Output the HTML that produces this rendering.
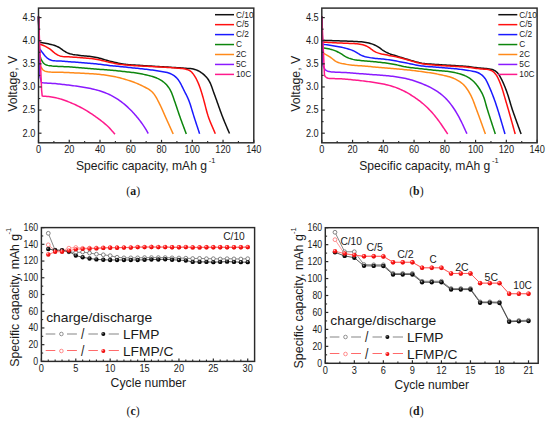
<!DOCTYPE html><html><head><meta charset="utf-8"><style>html,body{margin:0;padding:0;background:#fff;width:550px;height:422px;overflow:hidden}svg{display:block}</style></head><body>
<svg width="550" height="422" viewBox="0 0 550 422" font-family='"Liberation Sans", sans-serif'>
<rect width="550" height="422" fill="#fff"/>
<path d="M38.50,16.40 L39.30,42.30 L40.85,42.53 L42.31,42.75 L43.77,42.99 L45.24,43.25 L46.72,43.52 L48.20,43.82 L49.67,44.15 L51.13,44.51 L52.58,44.90 L54.02,45.33 L55.44,45.81 L56.84,46.35 L58.20,46.98 L59.50,47.72 L60.74,48.55 L61.95,49.44 L63.16,50.34 L64.39,51.20 L65.67,51.98 L66.99,52.67 L68.37,53.25 L69.79,53.72 L71.25,54.09 L72.72,54.39 L74.20,54.64 L75.69,54.87 L77.18,55.08 L78.67,55.28 L80.16,55.47 L81.66,55.64 L83.15,55.80 L84.65,55.94 L86.15,56.08 L87.65,56.22 L89.15,56.37 L90.64,56.53 L92.13,56.72 L93.62,56.93 L95.11,57.18 L96.58,57.47 L98.05,57.80 L99.51,58.17 L100.96,58.57 L102.40,59.00 L103.84,59.44 L105.28,59.88 L106.72,60.32 L108.16,60.73 L109.61,61.13 L111.07,61.50 L112.54,61.85 L114.00,62.19 L115.47,62.52 L116.94,62.84 L118.41,63.15 L119.89,63.43 L121.37,63.70 L122.86,63.94 L124.34,64.16 L125.84,64.36 L127.33,64.52 L128.83,64.66 L130.33,64.78 L131.83,64.88 L133.33,64.97 L134.83,65.06 L136.34,65.15 L137.84,65.25 L139.34,65.35 L140.84,65.45 L142.34,65.54 L143.85,65.64 L145.35,65.74 L146.85,65.83 L148.35,65.92 L149.85,66.02 L151.36,66.11 L152.86,66.20 L154.36,66.30 L155.86,66.39 L157.36,66.48 L158.87,66.58 L160.37,66.67 L161.87,66.76 L163.37,66.85 L164.87,66.94 L166.38,67.03 L167.88,67.12 L169.38,67.21 L170.88,67.30 L172.39,67.39 L173.89,67.48 L175.39,67.57 L176.89,67.67 L178.39,67.77 L179.89,67.87 L181.40,67.98 L182.90,68.08 L184.40,68.19 L185.90,68.29 L187.40,68.38 L188.90,68.48 L190.40,68.60 L191.89,68.78 L193.36,69.05 L194.81,69.43 L196.23,69.91 L197.61,70.50 L198.95,71.17 L200.24,71.94 L201.48,72.77 L202.68,73.67 L203.84,74.63 L204.95,75.65 L205.99,76.72 L206.98,77.85 L207.89,79.04 L208.73,80.28 L209.48,81.58 L210.15,82.92 L210.76,84.30 L211.31,85.69 L211.83,87.10 L212.34,88.52 L212.83,89.95 L213.32,91.37 L213.83,92.78 L214.34,94.20 L214.86,95.61 L215.38,97.02 L215.90,98.44 L216.41,99.85 L216.91,101.27 L217.42,102.69 L217.92,104.11 L218.42,105.53 L218.92,106.95 L219.42,108.36 L219.93,109.78 L220.44,111.20 L220.96,112.61 L221.48,114.02 L222.01,115.43 L222.55,116.83 L223.10,118.24 L223.66,119.63 L224.22,121.03 L224.80,122.42 L225.38,123.81 L225.96,125.19 L226.55,126.58 L227.14,127.96 L227.73,129.34 L228.32,130.70 L228.89,132.05 L229.50,133.50" fill="none" stroke="#111111" stroke-width="1.5" stroke-linejoin="round" stroke-linecap="butt" />
<path d="M38.50,16.40 L39.30,44.00 L40.78,44.51 L42.17,45.00 L43.54,45.54 L44.90,46.17 L46.25,46.84 L47.56,47.57 L48.83,48.36 L50.07,49.21 L51.26,50.13 L52.41,51.09 L53.54,52.07 L54.70,53.03 L55.90,53.92 L57.16,54.73 L58.48,55.41 L59.87,55.92 L61.32,56.28 L62.79,56.50 L64.29,56.63 L65.79,56.71 L67.29,56.78 L68.79,56.85 L70.29,56.93 L71.80,57.03 L73.30,57.14 L74.80,57.26 L76.30,57.37 L77.80,57.47 L79.30,57.58 L80.80,57.69 L82.30,57.80 L83.80,57.91 L85.30,58.03 L86.79,58.16 L88.29,58.29 L89.79,58.44 L91.28,58.60 L92.78,58.77 L94.27,58.97 L95.76,59.19 L97.24,59.45 L98.71,59.74 L100.18,60.06 L101.65,60.40 L103.11,60.76 L104.56,61.14 L106.02,61.51 L107.48,61.87 L108.95,62.21 L110.42,62.53 L111.89,62.83 L113.36,63.13 L114.84,63.41 L116.32,63.69 L117.80,63.95 L119.28,64.19 L120.77,64.41 L122.26,64.62 L123.75,64.81 L125.25,64.97 L126.74,65.12 L128.24,65.26 L129.74,65.37 L131.24,65.48 L132.74,65.58 L134.24,65.67 L135.75,65.76 L137.25,65.84 L138.75,65.91 L140.25,65.99 L141.76,66.06 L143.26,66.13 L144.76,66.20 L146.26,66.27 L147.77,66.34 L149.27,66.42 L150.77,66.50 L152.27,66.58 L153.77,66.67 L155.27,66.76 L156.78,66.85 L158.28,66.94 L159.78,67.03 L161.28,67.12 L162.78,67.20 L164.28,67.28 L165.79,67.36 L167.29,67.45 L168.79,67.53 L170.29,67.62 L171.79,67.71 L173.29,67.80 L174.79,67.90 L176.29,68.01 L177.79,68.13 L179.29,68.27 L180.79,68.43 L182.28,68.61 L183.77,68.83 L185.24,69.09 L186.70,69.42 L188.12,69.87 L189.46,70.49 L190.68,71.30 L191.78,72.29 L192.77,73.41 L193.67,74.60 L194.50,75.85 L195.29,77.13 L196.03,78.44 L196.72,79.77 L197.37,81.13 L197.99,82.50 L198.58,83.88 L199.13,85.28 L199.66,86.68 L200.16,88.10 L200.64,89.53 L201.10,90.96 L201.54,92.40 L201.98,93.84 L202.41,95.28 L202.84,96.72 L203.25,98.17 L203.65,99.61 L204.04,101.07 L204.42,102.52 L204.80,103.98 L205.17,105.44 L205.54,106.90 L205.91,108.35 L206.29,109.81 L206.68,111.26 L207.09,112.71 L207.52,114.15 L207.96,115.59 L208.43,117.01 L208.93,118.43 L209.45,119.84 L210.00,121.25 L210.56,122.64 L211.14,124.03 L211.73,125.41 L212.32,126.79 L212.92,128.17 L213.52,129.55 L214.11,130.91 L214.69,132.25 L215.30,133.70" fill="none" stroke="#ff1010" stroke-width="1.5" stroke-linejoin="round" stroke-linecap="butt" />
<path d="M38.50,16.40 L39.40,48.50 L40.33,49.77 L41.19,50.95 L42.07,52.14 L42.99,53.33 L43.92,54.51 L44.88,55.66 L45.89,56.77 L46.97,57.81 L48.13,58.73 L49.39,59.49 L50.75,60.06 L52.18,60.44 L53.65,60.68 L55.14,60.83 L56.64,60.92 L58.15,60.99 L59.65,61.05 L61.15,61.12 L62.65,61.20 L64.15,61.30 L65.65,61.41 L67.15,61.52 L68.65,61.64 L70.15,61.76 L71.65,61.88 L73.15,62.00 L74.65,62.11 L76.15,62.23 L77.65,62.35 L79.15,62.46 L80.65,62.58 L82.15,62.70 L83.65,62.82 L85.15,62.94 L86.64,63.06 L88.14,63.19 L89.64,63.32 L91.14,63.45 L92.64,63.58 L94.14,63.72 L95.63,63.87 L97.13,64.03 L98.62,64.19 L100.12,64.36 L101.61,64.54 L103.10,64.73 L104.60,64.92 L106.09,65.10 L107.58,65.29 L109.07,65.46 L110.57,65.63 L112.06,65.79 L113.56,65.94 L115.06,66.09 L116.55,66.23 L118.05,66.37 L119.55,66.52 L121.05,66.66 L122.54,66.81 L124.04,66.96 L125.53,67.12 L127.03,67.27 L128.53,67.43 L130.02,67.58 L131.52,67.73 L133.02,67.89 L134.51,68.04 L136.01,68.19 L137.50,68.35 L139.00,68.51 L140.49,68.67 L141.99,68.83 L143.48,69.00 L144.98,69.17 L146.47,69.34 L147.97,69.52 L149.46,69.70 L150.95,69.89 L152.44,70.09 L153.93,70.30 L155.42,70.52 L156.91,70.74 L158.39,70.96 L159.88,71.18 L161.37,71.41 L162.85,71.65 L164.33,71.91 L165.80,72.22 L167.26,72.59 L168.69,73.03 L170.10,73.55 L171.46,74.17 L172.78,74.87 L174.04,75.67 L175.24,76.57 L176.35,77.57 L177.37,78.66 L178.30,79.83 L179.15,81.06 L179.93,82.34 L180.66,83.66 L181.35,84.99 L182.02,86.34 L182.68,87.69 L183.34,89.04 L184.01,90.39 L184.69,91.73 L185.38,93.07 L186.07,94.40 L186.75,95.75 L187.40,97.10 L188.02,98.47 L188.60,99.86 L189.14,101.26 L189.66,102.67 L190.14,104.09 L190.60,105.52 L191.05,106.96 L191.49,108.40 L191.92,109.84 L192.35,111.28 L192.79,112.72 L193.22,114.16 L193.67,115.60 L194.12,117.03 L194.58,118.46 L195.04,119.89 L195.51,121.32 L195.98,122.75 L196.45,124.18 L196.92,125.61 L197.40,127.04 L197.87,128.46 L198.34,129.88 L198.80,131.28 L199.27,132.69 L199.60,133.70" fill="none" stroke="#1a1aff" stroke-width="1.5" stroke-linejoin="round" stroke-linecap="butt" />
<path d="M38.50,16.40 L39.40,54.20 L39.90,55.69 L40.35,57.09 L40.86,58.48 L41.45,59.85 L42.13,61.18 L42.94,62.42 L43.91,63.51 L45.07,64.36 L46.39,64.97 L47.82,65.37 L49.29,65.64 L50.78,65.84 L52.27,66.01 L53.77,66.14 L55.28,66.25 L56.78,66.33 L58.29,66.40 L59.79,66.47 L61.30,66.53 L62.80,66.58 L64.31,66.64 L65.81,66.70 L67.32,66.77 L68.82,66.85 L70.33,66.94 L71.83,67.03 L73.33,67.14 L74.83,67.26 L76.34,67.38 L77.84,67.51 L79.34,67.63 L80.84,67.77 L82.34,67.90 L83.84,68.03 L85.34,68.17 L86.84,68.31 L88.34,68.44 L89.84,68.58 L91.34,68.71 L92.84,68.84 L94.35,68.96 L95.85,69.08 L97.35,69.20 L98.85,69.30 L100.36,69.41 L101.86,69.51 L103.36,69.60 L104.87,69.70 L106.37,69.81 L107.87,69.92 L109.37,70.04 L110.87,70.17 L112.37,70.31 L113.87,70.45 L115.37,70.60 L116.87,70.76 L118.37,70.92 L119.87,71.09 L121.36,71.25 L122.86,71.42 L124.36,71.59 L125.86,71.76 L127.35,71.92 L128.85,72.08 L130.35,72.24 L131.85,72.41 L133.34,72.60 L134.83,72.80 L136.32,73.02 L137.81,73.26 L139.29,73.52 L140.78,73.80 L142.25,74.09 L143.73,74.38 L145.21,74.69 L146.68,75.02 L148.14,75.36 L149.61,75.72 L151.06,76.11 L152.51,76.53 L153.94,77.00 L155.35,77.51 L156.75,78.07 L158.12,78.69 L159.46,79.37 L160.77,80.11 L162.04,80.92 L163.25,81.79 L164.42,82.74 L165.52,83.76 L166.56,84.84 L167.53,85.99 L168.44,87.19 L169.29,88.43 L170.06,89.71 L170.77,91.04 L171.41,92.40 L171.98,93.79 L172.51,95.20 L173.02,96.62 L173.52,98.04 L174.01,99.46 L174.51,100.88 L175.01,102.31 L175.51,103.73 L175.99,105.16 L176.47,106.58 L176.95,108.01 L177.43,109.44 L177.90,110.87 L178.38,112.30 L178.87,113.72 L179.36,115.15 L179.86,116.57 L180.36,117.99 L180.87,119.41 L181.39,120.82 L181.91,122.24 L182.43,123.65 L182.96,125.06 L183.48,126.47 L184.01,127.88 L184.54,129.29 L185.06,130.69 L185.58,132.07 L186.11,133.48 L186.30,134.00" fill="none" stroke="#0d860d" stroke-width="1.5" stroke-linejoin="round" stroke-linecap="butt" />
<path d="M38.50,16.40 L39.60,62.70 L40.12,64.18 L40.58,65.58 L41.09,66.97 L41.75,68.28 L42.57,69.47 L43.62,70.44 L44.88,71.13 L46.27,71.59 L47.74,71.86 L49.23,72.02 L50.73,72.12 L52.24,72.17 L53.74,72.20 L55.25,72.23 L56.76,72.24 L58.26,72.26 L59.77,72.28 L61.28,72.31 L62.78,72.35 L64.29,72.41 L65.80,72.47 L67.30,72.54 L68.81,72.61 L70.31,72.68 L71.82,72.75 L73.33,72.82 L74.83,72.89 L76.34,72.96 L77.84,73.03 L79.35,73.10 L80.85,73.17 L82.36,73.24 L83.87,73.32 L85.37,73.40 L86.88,73.48 L88.38,73.57 L89.88,73.66 L91.39,73.76 L92.89,73.87 L94.40,73.98 L95.90,74.10 L97.40,74.23 L98.90,74.37 L100.40,74.51 L101.90,74.66 L103.40,74.83 L104.89,75.02 L106.39,75.22 L107.88,75.44 L109.37,75.68 L110.85,75.93 L112.33,76.21 L113.81,76.50 L115.29,76.81 L116.76,77.14 L118.23,77.48 L119.69,77.84 L121.15,78.22 L122.61,78.61 L124.06,79.02 L125.50,79.45 L126.94,79.89 L128.38,80.35 L129.81,80.83 L131.23,81.31 L132.66,81.81 L134.07,82.32 L135.49,82.85 L136.89,83.40 L138.28,83.97 L139.66,84.59 L141.01,85.24 L142.36,85.92 L143.70,86.60 L145.05,87.28 L146.39,87.97 L147.71,88.70 L148.99,89.47 L150.23,90.32 L151.40,91.25 L152.49,92.28 L153.49,93.40 L154.40,94.59 L155.24,95.84 L156.02,97.13 L156.76,98.44 L157.47,99.77 L158.16,101.10 L158.85,102.44 L159.54,103.79 L160.21,105.14 L160.86,106.49 L161.50,107.86 L162.11,109.24 L162.72,110.62 L163.32,112.00 L163.92,113.38 L164.52,114.77 L165.13,116.14 L165.74,117.52 L166.36,118.90 L166.98,120.27 L167.60,121.64 L168.22,123.02 L168.85,124.39 L169.47,125.76 L170.09,127.13 L170.71,128.51 L171.33,129.88 L171.94,131.23 L172.55,132.57 L173.20,134.00" fill="none" stroke="#ff8a1a" stroke-width="1.5" stroke-linejoin="round" stroke-linecap="butt" />
<path d="M38.50,16.40 L39.60,75.50 L41.50,82.60 L43.16,82.83 L44.76,83.01 L46.32,83.11 L47.84,83.18 L49.34,83.25 L50.81,83.32 L52.28,83.40 L53.75,83.50 L55.21,83.62 L56.67,83.75 L58.14,83.90 L59.61,84.05 L61.09,84.21 L62.57,84.38 L64.05,84.55 L65.54,84.73 L67.03,84.91 L68.52,85.09 L70.01,85.28 L71.50,85.48 L73.00,85.67 L74.49,85.87 L75.98,86.08 L77.47,86.29 L78.96,86.51 L80.45,86.74 L81.94,86.97 L83.43,87.21 L84.91,87.47 L86.39,87.73 L87.87,88.01 L89.35,88.29 L90.82,88.60 L92.29,88.92 L93.75,89.26 L95.21,89.61 L96.66,89.99 L98.11,90.39 L99.54,90.82 L100.97,91.26 L102.39,91.74 L103.79,92.24 L105.19,92.77 L106.57,93.33 L107.95,93.92 L109.30,94.53 L110.64,95.18 L111.97,95.86 L113.28,96.57 L114.58,97.30 L115.86,98.07 L117.12,98.86 L118.37,99.69 L119.59,100.54 L120.81,101.41 L122.00,102.31 L123.17,103.23 L124.33,104.18 L125.47,105.15 L126.59,106.14 L127.70,107.15 L128.78,108.18 L129.85,109.23 L130.91,110.28 L131.96,111.34 L133.00,112.43 L134.01,113.53 L135.00,114.65 L135.97,115.78 L136.92,116.92 L137.86,118.07 L138.78,119.22 L139.68,120.39 L140.57,121.56 L141.44,122.74 L142.29,123.93 L143.14,125.13 L143.97,126.35 L144.79,127.60 L145.59,128.88 L146.38,130.21 L147.18,131.59 L148.01,133.01 L148.30,133.50" fill="none" stroke="#8a1aff" stroke-width="1.5" stroke-linejoin="round" stroke-linecap="butt" />
<path d="M38.50,16.40 L41.60,90.00 L42.20,96.00 L43.87,96.15 L45.48,96.28 L47.03,96.43 L48.55,96.59 L50.04,96.78 L51.50,97.01 L52.95,97.26 L54.39,97.53 L55.83,97.82 L57.26,98.14 L58.69,98.49 L60.12,98.88 L61.54,99.30 L62.95,99.76 L64.36,100.25 L65.76,100.76 L67.16,101.29 L68.56,101.84 L69.95,102.40 L71.33,102.99 L72.71,103.57 L74.09,104.18 L75.45,104.80 L76.81,105.45 L78.17,106.11 L79.51,106.79 L80.84,107.48 L82.17,108.20 L83.49,108.93 L84.79,109.67 L86.09,110.43 L87.38,111.21 L88.66,112.00 L89.93,112.81 L91.19,113.64 L92.44,114.47 L93.69,115.31 L94.93,116.16 L96.16,117.02 L97.38,117.90 L98.58,118.79 L99.77,119.69 L100.95,120.60 L102.12,121.52 L103.27,122.44 L104.41,123.38 L105.54,124.33 L106.64,125.30 L107.72,126.29 L108.78,127.32 L109.80,128.38 L110.82,129.49 L111.83,130.63 L112.85,131.81 L113.90,133.04 L115.00,134.30" fill="none" stroke="#ff1a8c" stroke-width="1.5" stroke-linejoin="round" stroke-linecap="butt" />
<rect x="38.5" y="8.1" width="215.3" height="134.70000000000002" fill="none" stroke="#2a2a2a" stroke-width="1.45"/>
<line x1="38.50" y1="142.8" x2="38.50" y2="139.8" stroke="#2a2a2a" stroke-width="1.2"/>
<line x1="69.26" y1="142.8" x2="69.26" y2="139.8" stroke="#2a2a2a" stroke-width="1.2"/>
<line x1="100.01" y1="142.8" x2="100.01" y2="139.8" stroke="#2a2a2a" stroke-width="1.2"/>
<line x1="130.77" y1="142.8" x2="130.77" y2="139.8" stroke="#2a2a2a" stroke-width="1.2"/>
<line x1="161.53" y1="142.8" x2="161.53" y2="139.8" stroke="#2a2a2a" stroke-width="1.2"/>
<line x1="192.29" y1="142.8" x2="192.29" y2="139.8" stroke="#2a2a2a" stroke-width="1.2"/>
<line x1="223.04" y1="142.8" x2="223.04" y2="139.8" stroke="#2a2a2a" stroke-width="1.2"/>
<line x1="253.80" y1="142.8" x2="253.80" y2="139.8" stroke="#2a2a2a" stroke-width="1.2"/>
<line x1="53.88" y1="142.8" x2="53.88" y2="141.0" stroke="#2a2a2a" stroke-width="1.1"/>
<line x1="84.64" y1="142.8" x2="84.64" y2="141.0" stroke="#2a2a2a" stroke-width="1.1"/>
<line x1="115.39" y1="142.8" x2="115.39" y2="141.0" stroke="#2a2a2a" stroke-width="1.1"/>
<line x1="146.15" y1="142.8" x2="146.15" y2="141.0" stroke="#2a2a2a" stroke-width="1.1"/>
<line x1="176.91" y1="142.8" x2="176.91" y2="141.0" stroke="#2a2a2a" stroke-width="1.1"/>
<line x1="207.66" y1="142.8" x2="207.66" y2="141.0" stroke="#2a2a2a" stroke-width="1.1"/>
<line x1="238.42" y1="142.8" x2="238.42" y2="141.0" stroke="#2a2a2a" stroke-width="1.1"/>
<line x1="38.5" y1="133.20" x2="41.5" y2="133.20" stroke="#2a2a2a" stroke-width="1.2"/>
<line x1="38.5" y1="110.08" x2="41.5" y2="110.08" stroke="#2a2a2a" stroke-width="1.2"/>
<line x1="38.5" y1="86.96" x2="41.5" y2="86.96" stroke="#2a2a2a" stroke-width="1.2"/>
<line x1="38.5" y1="63.84" x2="41.5" y2="63.84" stroke="#2a2a2a" stroke-width="1.2"/>
<line x1="38.5" y1="40.72" x2="41.5" y2="40.72" stroke="#2a2a2a" stroke-width="1.2"/>
<line x1="38.5" y1="17.60" x2="41.5" y2="17.60" stroke="#2a2a2a" stroke-width="1.2"/>
<line x1="38.5" y1="121.64" x2="40.3" y2="121.64" stroke="#2a2a2a" stroke-width="1.1"/>
<line x1="38.5" y1="98.52" x2="40.3" y2="98.52" stroke="#2a2a2a" stroke-width="1.1"/>
<line x1="38.5" y1="75.40" x2="40.3" y2="75.40" stroke="#2a2a2a" stroke-width="1.1"/>
<line x1="38.5" y1="52.28" x2="40.3" y2="52.28" stroke="#2a2a2a" stroke-width="1.1"/>
<line x1="38.5" y1="29.16" x2="40.3" y2="29.16" stroke="#2a2a2a" stroke-width="1.1"/>
<text x="38.50" y="153.3" font-size="10.0" text-anchor="middle" fill="#1a1a1a" textLength="5.12" lengthAdjust="spacingAndGlyphs" >0</text>
<text x="69.26" y="153.3" font-size="10.0" text-anchor="middle" fill="#1a1a1a" textLength="10.23" lengthAdjust="spacingAndGlyphs" >20</text>
<text x="100.01" y="153.3" font-size="10.0" text-anchor="middle" fill="#1a1a1a" textLength="10.23" lengthAdjust="spacingAndGlyphs" >40</text>
<text x="130.77" y="153.3" font-size="10.0" text-anchor="middle" fill="#1a1a1a" textLength="10.23" lengthAdjust="spacingAndGlyphs" >60</text>
<text x="161.53" y="153.3" font-size="10.0" text-anchor="middle" fill="#1a1a1a" textLength="10.23" lengthAdjust="spacingAndGlyphs" >80</text>
<text x="192.29" y="153.3" font-size="10.0" text-anchor="middle" fill="#1a1a1a" textLength="15.35" lengthAdjust="spacingAndGlyphs" >100</text>
<text x="223.04" y="153.3" font-size="10.0" text-anchor="middle" fill="#1a1a1a" textLength="15.35" lengthAdjust="spacingAndGlyphs" >120</text>
<text x="253.80" y="153.3" font-size="10.0" text-anchor="middle" fill="#1a1a1a" textLength="15.35" lengthAdjust="spacingAndGlyphs" >140</text>
<text x="35.4" y="136.50" font-size="10.0" text-anchor="end" fill="#1a1a1a" textLength="12.79" lengthAdjust="spacingAndGlyphs" >2.0</text>
<text x="35.4" y="113.38" font-size="10.0" text-anchor="end" fill="#1a1a1a" textLength="12.79" lengthAdjust="spacingAndGlyphs" >2.5</text>
<text x="35.4" y="90.26" font-size="10.0" text-anchor="end" fill="#1a1a1a" textLength="12.79" lengthAdjust="spacingAndGlyphs" >3.0</text>
<text x="35.4" y="67.14" font-size="10.0" text-anchor="end" fill="#1a1a1a" textLength="12.79" lengthAdjust="spacingAndGlyphs" >3.5</text>
<text x="35.4" y="44.02" font-size="10.0" text-anchor="end" fill="#1a1a1a" textLength="12.79" lengthAdjust="spacingAndGlyphs" >4.0</text>
<text x="35.4" y="20.90" font-size="10.0" text-anchor="end" fill="#1a1a1a" textLength="12.79" lengthAdjust="spacingAndGlyphs" >4.5</text>
<line x1="215" y1="14.70" x2="234" y2="14.70" stroke="#111111" stroke-width="1.5"/>
<text x="236" y="17.50" font-size="8.8" text-anchor="start" fill="#1a1a1a" textLength="17.5" lengthAdjust="spacingAndGlyphs" >C/10</text>
<line x1="215" y1="24.65" x2="234" y2="24.65" stroke="#ff1010" stroke-width="1.5"/>
<text x="236" y="27.45" font-size="8.8" text-anchor="start" fill="#1a1a1a" textLength="12.9" lengthAdjust="spacingAndGlyphs" >C/5</text>
<line x1="215" y1="34.60" x2="234" y2="34.60" stroke="#1a1aff" stroke-width="1.5"/>
<text x="236" y="37.40" font-size="8.8" text-anchor="start" fill="#1a1a1a" textLength="12.9" lengthAdjust="spacingAndGlyphs" >C/2</text>
<line x1="215" y1="44.55" x2="234" y2="44.55" stroke="#0d860d" stroke-width="1.5"/>
<text x="236" y="47.35" font-size="8.8" text-anchor="start" fill="#1a1a1a" textLength="6.0" lengthAdjust="spacingAndGlyphs" >C</text>
<line x1="215" y1="54.50" x2="234" y2="54.50" stroke="#ff8a1a" stroke-width="1.5"/>
<text x="236" y="57.30" font-size="8.8" text-anchor="start" fill="#1a1a1a" textLength="10.6" lengthAdjust="spacingAndGlyphs" >2C</text>
<line x1="215" y1="64.45" x2="234" y2="64.45" stroke="#8a1aff" stroke-width="1.5"/>
<text x="236" y="67.25" font-size="8.8" text-anchor="start" fill="#1a1a1a" textLength="10.6" lengthAdjust="spacingAndGlyphs" >5C</text>
<line x1="215" y1="74.40" x2="234" y2="74.40" stroke="#ff1a8c" stroke-width="1.5"/>
<text x="236" y="77.20" font-size="8.8" text-anchor="start" fill="#1a1a1a" textLength="15.2" lengthAdjust="spacingAndGlyphs" >10C</text>
<text x="76" y="170.3" font-size="12.4" text-anchor="start" fill="#1a1a1a" textLength="131" lengthAdjust="spacingAndGlyphs" >Specific capacity, mAh g</text>
<text x="208.8" y="162.9" font-size="7.5" text-anchor="start" fill="#1a1a1a" >-1</text>
<text transform="translate(16.6,111.8) rotate(-90)" font-size="12.4" textLength="56" lengthAdjust="spacingAndGlyphs" fill="#1a1a1a">Voltage, V</text>
<path d="M321.80,16.40 L322.40,40.30 L323.97,40.35 L325.44,40.40 L326.92,40.45 L328.41,40.50 L329.92,40.55 L331.42,40.60 L332.92,40.65 L334.43,40.70 L335.93,40.75 L337.44,40.80 L338.94,40.85 L340.44,40.90 L341.95,40.95 L343.45,41.01 L344.95,41.06 L346.46,41.12 L347.96,41.18 L349.46,41.24 L350.96,41.31 L352.47,41.37 L353.97,41.45 L355.47,41.52 L356.97,41.60 L358.48,41.67 L359.98,41.76 L361.48,41.87 L362.98,42.01 L364.47,42.19 L365.95,42.42 L367.43,42.71 L368.89,43.05 L370.34,43.45 L371.77,43.90 L373.18,44.41 L374.58,44.97 L375.94,45.60 L377.26,46.30 L378.53,47.10 L379.75,47.97 L380.95,48.87 L382.16,49.76 L383.41,50.60 L384.69,51.38 L386.01,52.10 L387.36,52.76 L388.73,53.37 L390.13,53.92 L391.54,54.42 L392.97,54.89 L394.41,55.34 L395.84,55.79 L397.28,56.24 L398.71,56.69 L400.15,57.13 L401.59,57.57 L403.03,58.01 L404.47,58.44 L405.91,58.88 L407.35,59.32 L408.78,59.77 L410.22,60.21 L411.66,60.65 L413.10,61.08 L414.55,61.50 L416.00,61.89 L417.46,62.26 L418.92,62.60 L420.39,62.90 L421.87,63.17 L423.36,63.39 L424.85,63.59 L426.35,63.75 L427.84,63.89 L429.34,64.01 L430.84,64.12 L432.34,64.22 L433.84,64.32 L435.35,64.42 L436.85,64.52 L438.35,64.62 L439.85,64.73 L441.35,64.83 L442.85,64.93 L444.35,65.02 L445.85,65.11 L447.36,65.19 L448.86,65.28 L450.36,65.36 L451.86,65.44 L453.36,65.52 L454.87,65.61 L456.37,65.69 L457.87,65.78 L459.37,65.88 L460.87,65.98 L462.37,66.08 L463.87,66.20 L465.37,66.32 L466.87,66.46 L468.36,66.62 L469.86,66.79 L471.35,66.97 L472.84,67.17 L474.33,67.37 L475.82,67.57 L477.32,67.77 L478.81,67.95 L480.31,68.10 L481.80,68.24 L483.30,68.35 L484.80,68.46 L486.30,68.58 L487.80,68.73 L489.29,68.92 L490.76,69.18 L492.21,69.54 L493.61,70.05 L494.92,70.72 L496.13,71.57 L497.22,72.58 L498.19,73.70 L499.07,74.92 L499.85,76.19 L500.59,77.51 L501.28,78.84 L501.95,80.19 L502.60,81.54 L503.23,82.91 L503.83,84.29 L504.42,85.67 L504.99,87.06 L505.54,88.46 L506.08,89.87 L506.60,91.28 L507.10,92.70 L507.59,94.12 L508.07,95.55 L508.52,96.98 L508.96,98.42 L509.39,99.86 L509.82,101.30 L510.24,102.75 L510.66,104.19 L511.09,105.63 L511.53,107.07 L511.99,108.50 L512.46,109.93 L512.94,111.36 L513.44,112.78 L513.94,114.19 L514.45,115.61 L514.95,117.03 L515.46,118.44 L515.97,119.86 L516.48,121.27 L516.99,122.69 L517.51,124.10 L518.02,125.52 L518.53,126.93 L519.05,128.34 L519.56,129.75 L520.06,131.14 L520.57,132.52 L521.10,134.00" fill="none" stroke="#111111" stroke-width="1.5" stroke-linejoin="round" stroke-linecap="butt" />
<path d="M321.80,16.40 L322.40,42.10 L323.97,42.18 L325.43,42.26 L326.91,42.33 L328.41,42.41 L329.91,42.49 L331.41,42.57 L332.91,42.65 L334.41,42.73 L335.92,42.81 L337.42,42.89 L338.92,42.96 L340.42,43.04 L341.92,43.11 L343.43,43.18 L344.93,43.25 L346.43,43.30 L347.93,43.35 L349.44,43.38 L350.94,43.42 L352.44,43.47 L353.95,43.55 L355.44,43.66 L356.94,43.80 L358.44,43.97 L359.92,44.17 L361.40,44.43 L362.86,44.76 L364.30,45.18 L365.70,45.71 L367.05,46.35 L368.36,47.08 L369.61,47.90 L370.82,48.79 L372.00,49.72 L373.19,50.61 L374.45,51.42 L375.77,52.10 L377.16,52.66 L378.58,53.13 L380.03,53.54 L381.49,53.90 L382.95,54.22 L384.43,54.52 L385.90,54.82 L387.38,55.11 L388.85,55.40 L390.33,55.69 L391.81,55.97 L393.28,56.26 L394.75,56.57 L396.22,56.89 L397.69,57.23 L399.15,57.59 L400.61,57.95 L402.06,58.33 L403.52,58.71 L404.97,59.10 L406.42,59.51 L407.86,59.92 L409.31,60.34 L410.75,60.77 L412.19,61.20 L413.63,61.62 L415.08,62.02 L416.53,62.41 L417.99,62.77 L419.46,63.11 L420.93,63.41 L422.41,63.68 L423.89,63.92 L425.38,64.14 L426.87,64.33 L428.37,64.51 L429.86,64.67 L431.36,64.81 L432.86,64.95 L434.35,65.08 L435.85,65.21 L437.35,65.34 L438.85,65.46 L440.35,65.57 L441.85,65.68 L443.35,65.77 L444.85,65.86 L446.35,65.94 L447.86,66.02 L449.36,66.10 L450.86,66.17 L452.36,66.24 L453.86,66.31 L455.37,66.39 L456.87,66.47 L458.37,66.55 L459.87,66.63 L461.37,66.72 L462.87,66.83 L464.37,66.94 L465.87,67.07 L467.37,67.22 L468.86,67.38 L470.35,67.57 L471.84,67.77 L473.33,67.98 L474.82,68.20 L476.31,68.41 L477.80,68.61 L479.29,68.79 L480.79,68.94 L482.29,69.05 L483.79,69.15 L485.29,69.24 L486.78,69.37 L488.26,69.58 L489.71,69.92 L491.10,70.43 L492.40,71.13 L493.59,72.00 L494.66,73.03 L495.62,74.17 L496.48,75.39 L497.25,76.67 L497.95,78.00 L498.59,79.36 L499.20,80.74 L499.77,82.13 L500.32,83.53 L500.85,84.93 L501.37,86.34 L501.86,87.76 L502.33,89.19 L502.78,90.63 L503.21,92.07 L503.63,93.51 L504.05,94.96 L504.47,96.40 L504.89,97.84 L505.32,99.29 L505.74,100.73 L506.17,102.17 L506.60,103.61 L507.02,105.06 L507.44,106.50 L507.86,107.94 L508.28,109.39 L508.69,110.83 L509.11,112.28 L509.52,113.73 L509.93,115.17 L510.33,116.62 L510.74,118.07 L511.15,119.52 L511.55,120.97 L511.96,122.41 L512.36,123.86 L512.77,125.31 L513.17,126.76 L513.58,128.21 L513.98,129.65 L514.38,131.08 L514.78,132.49 L515.20,134.00" fill="none" stroke="#ff1010" stroke-width="1.5" stroke-linejoin="round" stroke-linecap="butt" />
<path d="M321.80,16.40 L322.40,44.20 L323.95,44.42 L325.41,44.63 L326.88,44.83 L328.36,45.04 L329.85,45.25 L331.34,45.46 L332.83,45.68 L334.31,45.91 L335.80,46.15 L337.28,46.41 L338.76,46.68 L340.24,46.97 L341.71,47.28 L343.18,47.61 L344.64,47.96 L346.09,48.35 L347.54,48.76 L348.98,49.19 L350.41,49.64 L351.83,50.14 L353.23,50.69 L354.58,51.33 L355.89,52.06 L357.15,52.86 L358.40,53.69 L359.68,54.46 L361.01,55.15 L362.39,55.74 L363.81,56.24 L365.25,56.66 L366.70,57.02 L368.18,57.34 L369.65,57.62 L371.14,57.87 L372.62,58.09 L374.11,58.29 L375.61,58.46 L377.11,58.61 L378.60,58.74 L380.10,58.86 L381.60,58.98 L383.10,59.11 L384.60,59.26 L386.09,59.43 L387.58,59.63 L389.07,59.84 L390.56,60.08 L392.04,60.32 L393.53,60.57 L395.01,60.84 L396.49,61.10 L397.97,61.38 L399.45,61.65 L400.93,61.93 L402.41,62.21 L403.88,62.49 L405.36,62.78 L406.84,63.07 L408.31,63.37 L409.78,63.68 L411.25,63.99 L412.73,64.31 L414.20,64.62 L415.67,64.91 L417.15,65.19 L418.63,65.45 L420.12,65.69 L421.61,65.90 L423.10,66.08 L424.60,66.24 L426.09,66.39 L427.59,66.52 L429.09,66.63 L430.59,66.75 L432.09,66.85 L433.60,66.96 L435.10,67.07 L436.60,67.19 L438.10,67.31 L439.60,67.43 L441.09,67.56 L442.59,67.68 L444.09,67.79 L445.59,67.91 L447.09,68.03 L448.59,68.15 L450.09,68.28 L451.59,68.41 L453.09,68.54 L454.59,68.69 L456.09,68.84 L457.58,69.01 L459.07,69.18 L460.57,69.37 L462.06,69.56 L463.55,69.75 L465.04,69.96 L466.53,70.17 L468.02,70.39 L469.51,70.62 L470.99,70.87 L472.47,71.14 L473.94,71.44 L475.40,71.80 L476.83,72.24 L478.22,72.79 L479.55,73.47 L480.81,74.27 L481.99,75.18 L483.10,76.18 L484.11,77.28 L485.03,78.46 L485.85,79.71 L486.59,81.02 L487.26,82.36 L487.90,83.72 L488.52,85.09 L489.13,86.47 L489.73,87.85 L490.33,89.23 L490.91,90.62 L491.48,92.01 L492.04,93.41 L492.58,94.81 L493.12,96.21 L493.65,97.62 L494.17,99.03 L494.68,100.45 L495.18,101.87 L495.67,103.29 L496.15,104.72 L496.62,106.14 L497.09,107.58 L497.54,109.01 L498.00,110.44 L498.44,111.88 L498.89,113.32 L499.32,114.76 L499.76,116.20 L500.19,117.64 L500.61,119.08 L501.04,120.53 L501.46,121.97 L501.89,123.41 L502.31,124.86 L502.73,126.30 L503.16,127.75 L503.58,129.19 L504.00,130.62 L504.41,132.02 L504.84,133.47 L505.00,134.00" fill="none" stroke="#1a1aff" stroke-width="1.5" stroke-linejoin="round" stroke-linecap="butt" />
<path d="M321.80,16.40 L322.40,47.80 L323.95,48.08 L325.40,48.32 L326.86,48.56 L328.34,48.82 L329.82,49.11 L331.28,49.46 L332.73,49.87 L334.15,50.35 L335.54,50.91 L336.91,51.53 L338.26,52.21 L339.58,52.92 L340.89,53.67 L342.17,54.47 L343.43,55.29 L344.69,56.10 L345.99,56.86 L347.33,57.53 L348.71,58.11 L350.13,58.59 L351.58,59.01 L353.04,59.36 L354.51,59.67 L356.00,59.93 L357.49,60.16 L358.98,60.35 L360.48,60.51 L361.98,60.65 L363.48,60.78 L364.98,60.90 L366.48,61.01 L367.98,61.13 L369.49,61.26 L370.99,61.39 L372.49,61.54 L373.98,61.69 L375.48,61.85 L376.98,62.00 L378.48,62.16 L379.98,62.33 L381.47,62.49 L382.97,62.66 L384.47,62.84 L385.96,63.02 L387.46,63.22 L388.95,63.43 L390.44,63.66 L391.92,63.92 L393.40,64.19 L394.88,64.49 L396.35,64.81 L397.82,65.14 L399.29,65.48 L400.76,65.82 L402.23,66.15 L403.70,66.47 L405.18,66.75 L406.66,67.02 L408.15,67.25 L409.64,67.46 L411.13,67.65 L412.63,67.83 L414.13,68.00 L415.63,68.16 L417.12,68.32 L418.62,68.48 L420.12,68.64 L421.62,68.81 L423.11,68.97 L424.61,69.14 L426.11,69.31 L427.61,69.48 L429.10,69.64 L430.60,69.81 L432.10,69.97 L433.60,70.13 L435.09,70.29 L436.59,70.45 L438.09,70.60 L439.59,70.73 L441.09,70.85 L442.60,70.97 L444.10,71.07 L445.60,71.19 L447.10,71.32 L448.60,71.49 L450.09,71.68 L451.58,71.93 L453.06,72.20 L454.53,72.52 L456.00,72.86 L457.46,73.23 L458.91,73.62 L460.35,74.05 L461.79,74.51 L463.21,75.02 L464.61,75.57 L465.98,76.18 L467.32,76.85 L468.63,77.60 L469.89,78.42 L471.10,79.31 L472.26,80.26 L473.37,81.27 L474.43,82.33 L475.44,83.45 L476.41,84.60 L477.33,85.79 L478.22,87.01 L479.07,88.25 L479.90,89.51 L480.68,90.79 L481.42,92.10 L482.11,93.44 L482.75,94.80 L483.34,96.19 L483.88,97.59 L484.37,99.01 L484.81,100.45 L485.23,101.90 L485.63,103.35 L486.02,104.81 L486.43,106.26 L486.85,107.70 L487.28,109.15 L487.73,110.59 L488.18,112.02 L488.63,113.46 L489.09,114.89 L489.55,116.33 L490.02,117.76 L490.48,119.20 L490.95,120.63 L491.41,122.06 L491.88,123.49 L492.35,124.93 L492.82,126.36 L493.28,127.79 L493.75,129.22 L494.21,130.64 L494.66,132.04 L495.13,133.48 L495.30,134.00" fill="none" stroke="#0d860d" stroke-width="1.5" stroke-linejoin="round" stroke-linecap="butt" />
<path d="M321.80,16.40 L322.40,52.70 L323.78,53.44 L325.09,54.12 L326.39,54.82 L327.70,55.55 L328.99,56.32 L330.25,57.14 L331.46,58.03 L332.63,58.97 L333.80,59.91 L335.00,60.80 L336.27,61.58 L337.61,62.23 L339.01,62.74 L340.46,63.15 L341.92,63.50 L343.39,63.81 L344.87,64.11 L346.34,64.38 L347.83,64.63 L349.32,64.86 L350.81,65.05 L352.30,65.21 L353.80,65.34 L355.30,65.45 L356.81,65.54 L358.31,65.64 L359.81,65.74 L361.31,65.86 L362.81,65.98 L364.31,66.10 L365.81,66.23 L367.31,66.36 L368.81,66.49 L370.31,66.62 L371.81,66.75 L373.31,66.89 L374.81,67.02 L376.31,67.15 L377.81,67.28 L379.31,67.41 L380.80,67.54 L382.30,67.67 L383.80,67.80 L385.30,67.92 L386.80,68.05 L388.30,68.17 L389.80,68.30 L391.30,68.43 L392.80,68.56 L394.30,68.68 L395.80,68.81 L397.30,68.95 L398.80,69.08 L400.30,69.22 L401.80,69.35 L403.30,69.50 L404.79,69.64 L406.29,69.79 L407.79,69.95 L409.29,70.11 L410.78,70.27 L412.28,70.44 L413.77,70.62 L415.27,70.80 L416.76,70.98 L418.25,71.18 L419.74,71.37 L421.24,71.58 L422.73,71.78 L424.22,71.99 L425.71,72.20 L427.20,72.41 L428.69,72.63 L430.18,72.85 L431.66,73.09 L433.15,73.33 L434.63,73.58 L436.11,73.85 L437.59,74.13 L439.07,74.43 L440.54,74.73 L442.01,75.04 L443.48,75.37 L444.95,75.71 L446.41,76.06 L447.87,76.43 L449.32,76.83 L450.76,77.27 L452.18,77.76 L453.57,78.32 L454.94,78.94 L456.28,79.63 L457.59,80.36 L458.88,81.13 L460.14,81.94 L461.37,82.81 L462.53,83.75 L463.63,84.77 L464.65,85.87 L465.62,87.02 L466.52,88.22 L467.38,89.45 L468.20,90.72 L468.98,92.00 L469.74,93.30 L470.46,94.62 L471.14,95.96 L471.79,97.32 L472.40,98.69 L472.97,100.08 L473.52,101.49 L474.05,102.89 L474.57,104.31 L475.08,105.72 L475.60,107.13 L476.12,108.55 L476.65,109.96 L477.18,111.37 L477.70,112.78 L478.23,114.19 L478.74,115.60 L479.26,117.01 L479.78,118.43 L480.29,119.84 L480.80,121.26 L481.31,122.67 L481.82,124.09 L482.33,125.51 L482.84,126.92 L483.35,128.34 L483.86,129.75 L484.36,131.14 L484.86,132.52 L485.40,134.00" fill="none" stroke="#ff8a1a" stroke-width="1.5" stroke-linejoin="round" stroke-linecap="butt" />
<path d="M321.80,16.40 L322.40,62.70 L322.56,63.31 L322.71,63.92 L322.86,64.53 L323.02,65.14 L323.20,65.73 L323.40,66.30 L323.61,66.82 L323.83,67.34 L324.06,67.85 L324.32,68.33 L324.59,68.78 L324.90,69.20 L325.20,69.55 L325.53,69.87 L325.88,70.17 L326.24,70.44 L326.62,70.68 L327.00,70.90 L327.38,71.08 L327.77,71.21 L328.17,71.33 L328.59,71.42 L329.03,71.51 L329.50,71.60 L330.15,71.71 L330.82,71.81 L331.53,71.89 L332.29,71.96 L333.11,72.03 L334.00,72.10 L335.67,72.21 L337.57,72.30 L339.64,72.37 L341.79,72.45 L343.93,72.52 L346.00,72.60 L347.67,72.73 L349.28,72.85 L350.84,72.96 L352.36,73.08 L353.86,73.19 L355.33,73.30 L356.80,73.41 L358.27,73.52 L359.73,73.63 L361.20,73.74 L362.67,73.85 L364.15,73.96 L365.63,74.07 L367.12,74.18 L368.61,74.29 L370.11,74.40 L371.60,74.51 L373.10,74.63 L374.61,74.74 L376.11,74.85 L377.61,74.97 L379.12,75.08 L380.62,75.20 L382.12,75.33 L383.63,75.45 L385.13,75.58 L386.63,75.72 L388.13,75.86 L389.63,76.01 L391.13,76.17 L392.63,76.34 L394.13,76.52 L395.62,76.71 L397.11,76.92 L398.60,77.15 L400.08,77.39 L401.56,77.65 L403.03,77.93 L404.50,78.23 L405.97,78.55 L407.43,78.90 L408.88,79.27 L410.33,79.66 L411.77,80.08 L413.20,80.52 L414.63,80.98 L416.05,81.45 L417.47,81.95 L418.88,82.47 L420.28,83.00 L421.68,83.55 L423.07,84.11 L424.46,84.69 L425.83,85.29 L427.20,85.91 L428.55,86.54 L429.90,87.20 L431.23,87.88 L432.55,88.58 L433.85,89.31 L435.13,90.07 L436.39,90.86 L437.63,91.68 L438.85,92.53 L440.04,93.41 L441.21,94.33 L442.35,95.27 L443.47,96.25 L444.56,97.26 L445.62,98.30 L446.65,99.36 L447.66,100.46 L448.64,101.58 L449.59,102.72 L450.52,103.89 L451.42,105.08 L452.29,106.29 L453.15,107.51 L454.00,108.74 L454.83,109.98 L455.63,111.25 L456.40,112.52 L457.15,113.81 L457.88,115.11 L458.60,116.42 L459.29,117.72 L459.98,119.03 L460.65,120.34 L461.31,121.66 L461.95,122.98 L462.58,124.30 L463.21,125.64 L463.83,126.99 L464.46,128.36 L465.10,129.76 L465.75,131.20 L466.43,132.68 L466.90,133.70" fill="none" stroke="#8a1aff" stroke-width="1.5" stroke-linejoin="round" stroke-linecap="butt" />
<path d="M321.80,16.40 L324.50,75.50 L325.51,76.77 L326.70,77.77 L328.18,78.23 L329.70,78.43 L331.20,78.52 L332.68,78.57 L334.15,78.61 L335.61,78.64 L337.07,78.67 L338.53,78.72 L339.99,78.78 L341.46,78.86 L342.94,78.95 L344.42,79.06 L345.91,79.18 L347.40,79.32 L348.89,79.46 L350.38,79.60 L351.88,79.74 L353.38,79.89 L354.88,80.04 L356.38,80.19 L357.88,80.35 L359.38,80.52 L360.88,80.69 L362.38,80.87 L363.87,81.05 L365.37,81.24 L366.87,81.43 L368.37,81.63 L369.86,81.84 L371.36,82.05 L372.85,82.26 L374.34,82.49 L375.83,82.72 L377.32,82.96 L378.81,83.21 L380.29,83.47 L381.77,83.75 L383.24,84.04 L384.72,84.34 L386.18,84.67 L387.64,85.02 L389.09,85.39 L390.54,85.79 L391.97,86.21 L393.40,86.66 L394.82,87.14 L396.22,87.64 L397.62,88.18 L399.00,88.75 L400.37,89.34 L401.73,89.96 L403.08,90.61 L404.42,91.28 L405.74,91.98 L407.06,92.71 L408.36,93.45 L409.65,94.21 L410.93,95.00 L412.20,95.80 L413.46,96.62 L414.71,97.45 L415.95,98.30 L417.18,99.17 L418.39,100.06 L419.59,100.96 L420.77,101.88 L421.94,102.82 L423.09,103.78 L424.23,104.76 L425.34,105.75 L426.44,106.77 L427.52,107.81 L428.58,108.87 L429.62,109.95 L430.66,111.02 L431.68,112.12 L432.67,113.24 L433.65,114.37 L434.60,115.52 L435.53,116.68 L436.45,117.86 L437.35,119.03 L438.24,120.22 L439.11,121.41 L439.97,122.60 L440.82,123.80 L441.65,125.01 L442.48,126.23 L443.31,127.46 L444.15,128.70 L445.00,129.97 L445.86,131.27 L446.76,132.61 L447.70,134.00" fill="none" stroke="#ff1a8c" stroke-width="1.5" stroke-linejoin="round" stroke-linecap="butt" />
<rect x="321.8" y="8.1" width="215.3" height="134.70000000000002" fill="none" stroke="#2a2a2a" stroke-width="1.45"/>
<line x1="321.80" y1="142.8" x2="321.80" y2="139.8" stroke="#2a2a2a" stroke-width="1.2"/>
<line x1="352.56" y1="142.8" x2="352.56" y2="139.8" stroke="#2a2a2a" stroke-width="1.2"/>
<line x1="383.31" y1="142.8" x2="383.31" y2="139.8" stroke="#2a2a2a" stroke-width="1.2"/>
<line x1="414.07" y1="142.8" x2="414.07" y2="139.8" stroke="#2a2a2a" stroke-width="1.2"/>
<line x1="444.83" y1="142.8" x2="444.83" y2="139.8" stroke="#2a2a2a" stroke-width="1.2"/>
<line x1="475.59" y1="142.8" x2="475.59" y2="139.8" stroke="#2a2a2a" stroke-width="1.2"/>
<line x1="506.34" y1="142.8" x2="506.34" y2="139.8" stroke="#2a2a2a" stroke-width="1.2"/>
<line x1="537.10" y1="142.8" x2="537.10" y2="139.8" stroke="#2a2a2a" stroke-width="1.2"/>
<line x1="337.18" y1="142.8" x2="337.18" y2="141.0" stroke="#2a2a2a" stroke-width="1.1"/>
<line x1="367.94" y1="142.8" x2="367.94" y2="141.0" stroke="#2a2a2a" stroke-width="1.1"/>
<line x1="398.69" y1="142.8" x2="398.69" y2="141.0" stroke="#2a2a2a" stroke-width="1.1"/>
<line x1="429.45" y1="142.8" x2="429.45" y2="141.0" stroke="#2a2a2a" stroke-width="1.1"/>
<line x1="460.21" y1="142.8" x2="460.21" y2="141.0" stroke="#2a2a2a" stroke-width="1.1"/>
<line x1="490.96" y1="142.8" x2="490.96" y2="141.0" stroke="#2a2a2a" stroke-width="1.1"/>
<line x1="521.72" y1="142.8" x2="521.72" y2="141.0" stroke="#2a2a2a" stroke-width="1.1"/>
<line x1="321.8" y1="133.20" x2="324.8" y2="133.20" stroke="#2a2a2a" stroke-width="1.2"/>
<line x1="321.8" y1="110.08" x2="324.8" y2="110.08" stroke="#2a2a2a" stroke-width="1.2"/>
<line x1="321.8" y1="86.96" x2="324.8" y2="86.96" stroke="#2a2a2a" stroke-width="1.2"/>
<line x1="321.8" y1="63.84" x2="324.8" y2="63.84" stroke="#2a2a2a" stroke-width="1.2"/>
<line x1="321.8" y1="40.72" x2="324.8" y2="40.72" stroke="#2a2a2a" stroke-width="1.2"/>
<line x1="321.8" y1="17.60" x2="324.8" y2="17.60" stroke="#2a2a2a" stroke-width="1.2"/>
<line x1="321.8" y1="121.64" x2="323.6" y2="121.64" stroke="#2a2a2a" stroke-width="1.1"/>
<line x1="321.8" y1="98.52" x2="323.6" y2="98.52" stroke="#2a2a2a" stroke-width="1.1"/>
<line x1="321.8" y1="75.40" x2="323.6" y2="75.40" stroke="#2a2a2a" stroke-width="1.1"/>
<line x1="321.8" y1="52.28" x2="323.6" y2="52.28" stroke="#2a2a2a" stroke-width="1.1"/>
<line x1="321.8" y1="29.16" x2="323.6" y2="29.16" stroke="#2a2a2a" stroke-width="1.1"/>
<text x="321.80" y="153.3" font-size="10.0" text-anchor="middle" fill="#1a1a1a" textLength="5.12" lengthAdjust="spacingAndGlyphs" >0</text>
<text x="352.56" y="153.3" font-size="10.0" text-anchor="middle" fill="#1a1a1a" textLength="10.23" lengthAdjust="spacingAndGlyphs" >20</text>
<text x="383.31" y="153.3" font-size="10.0" text-anchor="middle" fill="#1a1a1a" textLength="10.23" lengthAdjust="spacingAndGlyphs" >40</text>
<text x="414.07" y="153.3" font-size="10.0" text-anchor="middle" fill="#1a1a1a" textLength="10.23" lengthAdjust="spacingAndGlyphs" >60</text>
<text x="444.83" y="153.3" font-size="10.0" text-anchor="middle" fill="#1a1a1a" textLength="10.23" lengthAdjust="spacingAndGlyphs" >80</text>
<text x="475.59" y="153.3" font-size="10.0" text-anchor="middle" fill="#1a1a1a" textLength="15.35" lengthAdjust="spacingAndGlyphs" >100</text>
<text x="506.34" y="153.3" font-size="10.0" text-anchor="middle" fill="#1a1a1a" textLength="15.35" lengthAdjust="spacingAndGlyphs" >120</text>
<text x="537.10" y="153.3" font-size="10.0" text-anchor="middle" fill="#1a1a1a" textLength="15.35" lengthAdjust="spacingAndGlyphs" >140</text>
<text x="318.7" y="136.50" font-size="10.0" text-anchor="end" fill="#1a1a1a" textLength="12.79" lengthAdjust="spacingAndGlyphs" >2.0</text>
<text x="318.7" y="113.38" font-size="10.0" text-anchor="end" fill="#1a1a1a" textLength="12.79" lengthAdjust="spacingAndGlyphs" >2.5</text>
<text x="318.7" y="90.26" font-size="10.0" text-anchor="end" fill="#1a1a1a" textLength="12.79" lengthAdjust="spacingAndGlyphs" >3.0</text>
<text x="318.7" y="67.14" font-size="10.0" text-anchor="end" fill="#1a1a1a" textLength="12.79" lengthAdjust="spacingAndGlyphs" >3.5</text>
<text x="318.7" y="44.02" font-size="10.0" text-anchor="end" fill="#1a1a1a" textLength="12.79" lengthAdjust="spacingAndGlyphs" >4.0</text>
<text x="318.7" y="20.90" font-size="10.0" text-anchor="end" fill="#1a1a1a" textLength="12.79" lengthAdjust="spacingAndGlyphs" >4.5</text>
<line x1="498.3" y1="14.70" x2="517.3" y2="14.70" stroke="#111111" stroke-width="1.5"/>
<text x="519.3" y="17.50" font-size="8.8" text-anchor="start" fill="#1a1a1a" textLength="17.5" lengthAdjust="spacingAndGlyphs" >C/10</text>
<line x1="498.3" y1="24.65" x2="517.3" y2="24.65" stroke="#ff1010" stroke-width="1.5"/>
<text x="519.3" y="27.45" font-size="8.8" text-anchor="start" fill="#1a1a1a" textLength="12.9" lengthAdjust="spacingAndGlyphs" >C/5</text>
<line x1="498.3" y1="34.60" x2="517.3" y2="34.60" stroke="#1a1aff" stroke-width="1.5"/>
<text x="519.3" y="37.40" font-size="8.8" text-anchor="start" fill="#1a1a1a" textLength="12.9" lengthAdjust="spacingAndGlyphs" >C/2</text>
<line x1="498.3" y1="44.55" x2="517.3" y2="44.55" stroke="#0d860d" stroke-width="1.5"/>
<text x="519.3" y="47.35" font-size="8.8" text-anchor="start" fill="#1a1a1a" textLength="6.0" lengthAdjust="spacingAndGlyphs" >C</text>
<line x1="498.3" y1="54.50" x2="517.3" y2="54.50" stroke="#ff8a1a" stroke-width="1.5"/>
<text x="519.3" y="57.30" font-size="8.8" text-anchor="start" fill="#1a1a1a" textLength="10.6" lengthAdjust="spacingAndGlyphs" >2C</text>
<line x1="498.3" y1="64.45" x2="517.3" y2="64.45" stroke="#8a1aff" stroke-width="1.5"/>
<text x="519.3" y="67.25" font-size="8.8" text-anchor="start" fill="#1a1a1a" textLength="10.6" lengthAdjust="spacingAndGlyphs" >5C</text>
<line x1="498.3" y1="74.40" x2="517.3" y2="74.40" stroke="#ff1a8c" stroke-width="1.5"/>
<text x="519.3" y="77.20" font-size="8.8" text-anchor="start" fill="#1a1a1a" textLength="15.2" lengthAdjust="spacingAndGlyphs" >10C</text>
<text x="359.3" y="170.3" font-size="12.4" text-anchor="start" fill="#1a1a1a" textLength="131" lengthAdjust="spacingAndGlyphs" >Specific capacity, mAh g</text>
<text x="492.1" y="162.9" font-size="7.5" text-anchor="start" fill="#1a1a1a" >-1</text>
<text transform="translate(299.90000000000003,111.8) rotate(-90)" font-size="12.4" textLength="56" lengthAdjust="spacingAndGlyphs" fill="#1a1a1a">Voltage, V</text>
<text x="133.2" y="194.8" font-family='"Liberation Serif", serif' font-size="11.8" text-anchor="middle" fill="#1a1a1a">(<tspan font-weight="bold">a</tspan>)</text>
<text x="416.4" y="195.0" font-family='"Liberation Serif", serif' font-size="11.8" text-anchor="middle" fill="#1a1a1a">(<tspan font-weight="bold">b</tspan>)</text>
<text x="133" y="415.4" font-family='"Liberation Serif", serif' font-size="11.8" text-anchor="middle" fill="#1a1a1a">(<tspan font-weight="bold">c</tspan>)</text>
<text x="416.4" y="414.8" font-family='"Liberation Serif", serif' font-size="11.8" text-anchor="middle" fill="#1a1a1a">(<tspan font-weight="bold">d</tspan>)</text>
<defs>
<radialGradient id="gk" cx="0.4" cy="0.35" r="0.7"><stop offset="0" stop-color="#d0d0d0"/><stop offset="0.2" stop-color="#444"/><stop offset="0.5" stop-color="#0a0a0a"/><stop offset="1" stop-color="#000"/></radialGradient>
<radialGradient id="gr" cx="0.35" cy="0.3" r="0.75"><stop offset="0" stop-color="#ffd0d0"/><stop offset="0.35" stop-color="#ff2020"/><stop offset="1" stop-color="#e00000"/></radialGradient>
</defs>
<path d="M48.28,233.29 L55.15,250.18 L62.03,250.60 L68.91,251.85 L75.79,252.52 L82.66,252.02 L89.54,253.02 L96.42,254.19 L103.30,254.78 L110.17,255.70 L117.05,257.29 L123.93,257.87 L130.81,257.87 L137.68,257.87 L144.56,257.62 L151.44,257.62 L158.32,257.62 L165.19,257.62 L172.07,257.87 L178.95,258.04 L185.83,258.21 L192.70,258.54 L199.58,258.37 L206.46,258.71 L213.34,258.71 L220.21,259.04 L227.09,258.71 L233.97,258.88 L240.85,259.04 L247.72,258.71" fill="none" stroke="#555555" stroke-width="0.7" stroke-linejoin="round" stroke-linecap="butt" />
<path d="M48.28,249.01 L55.15,250.18 L62.03,250.18 L68.91,251.43 L75.79,255.61 L82.66,257.29 L89.54,258.46 L96.42,259.38 L103.30,259.80 L110.17,259.96 L117.05,259.96 L123.93,259.96 L130.81,259.96 L137.68,259.96 L144.56,259.80 L151.44,259.54 L158.32,259.54 L165.19,259.21 L172.07,259.80 L178.95,260.05 L185.83,260.55 L192.70,261.89 L199.58,261.89 L206.46,261.89 L213.34,262.14 L220.21,261.89 L227.09,261.64 L233.97,261.89 L240.85,262.14 L247.72,262.14" fill="none" stroke="#2a2a2a" stroke-width="0.8" stroke-linejoin="round" stroke-linecap="butt" />
<path d="M48.28,244.83 L55.15,250.60 L62.03,250.60 L68.91,248.17 L75.79,247.50 L82.66,248.26 L89.54,248.09 L96.42,248.00 L103.30,247.75 L110.17,247.59 L117.05,247.59 L123.93,247.42 L130.81,247.42 L137.68,247.08 L144.56,247.08 L151.44,247.00 L158.32,247.08 L165.19,247.08 L172.07,247.25 L178.95,247.25 L185.83,247.08 L192.70,247.42 L199.58,247.42 L206.46,247.25 L213.34,247.25 L220.21,247.25 L227.09,247.25 L233.97,247.25 L240.85,247.25 L247.72,247.08" fill="none" stroke="#ff7070" stroke-width="0.7" stroke-linejoin="round" stroke-linecap="butt" />
<path d="M48.28,254.53 L55.15,251.77 L62.03,251.77 L68.91,250.60 L75.79,249.34 L82.66,248.84 L89.54,248.67 L96.42,248.42 L103.30,247.92 L110.17,247.75 L117.05,247.75 L123.93,247.59 L130.81,247.59 L137.68,247.08 L144.56,247.08 L151.44,247.00 L158.32,247.08 L165.19,247.08 L172.07,247.25 L178.95,247.25 L185.83,247.08 L192.70,247.42 L199.58,247.42 L206.46,247.25 L213.34,247.25 L220.21,247.25 L227.09,247.25 L233.97,247.25 L240.85,247.25 L247.72,247.08" fill="none" stroke="#ff4a4a" stroke-width="0.75" stroke-linejoin="round" stroke-linecap="butt" />
<circle cx="48.28" cy="233.29" r="1.9" fill="#fff" stroke="#666" stroke-width="0.8"/>
<circle cx="55.15" cy="250.18" r="1.9" fill="#fff" stroke="#666" stroke-width="0.8"/>
<circle cx="62.03" cy="250.60" r="1.9" fill="#fff" stroke="#666" stroke-width="0.8"/>
<circle cx="68.91" cy="251.85" r="1.9" fill="#fff" stroke="#666" stroke-width="0.8"/>
<circle cx="75.79" cy="252.52" r="1.9" fill="#fff" stroke="#666" stroke-width="0.8"/>
<circle cx="82.66" cy="252.02" r="1.9" fill="#fff" stroke="#666" stroke-width="0.8"/>
<circle cx="89.54" cy="253.02" r="1.9" fill="#fff" stroke="#666" stroke-width="0.8"/>
<circle cx="96.42" cy="254.19" r="1.9" fill="#fff" stroke="#666" stroke-width="0.8"/>
<circle cx="103.30" cy="254.78" r="1.9" fill="#fff" stroke="#666" stroke-width="0.8"/>
<circle cx="110.17" cy="255.70" r="1.9" fill="#fff" stroke="#666" stroke-width="0.8"/>
<circle cx="117.05" cy="257.29" r="1.9" fill="#fff" stroke="#666" stroke-width="0.8"/>
<circle cx="123.93" cy="257.87" r="1.9" fill="#fff" stroke="#666" stroke-width="0.8"/>
<circle cx="130.81" cy="257.87" r="1.9" fill="#fff" stroke="#666" stroke-width="0.8"/>
<circle cx="137.68" cy="257.87" r="1.9" fill="#fff" stroke="#666" stroke-width="0.8"/>
<circle cx="144.56" cy="257.62" r="1.9" fill="#fff" stroke="#666" stroke-width="0.8"/>
<circle cx="151.44" cy="257.62" r="1.9" fill="#fff" stroke="#666" stroke-width="0.8"/>
<circle cx="158.32" cy="257.62" r="1.9" fill="#fff" stroke="#666" stroke-width="0.8"/>
<circle cx="165.19" cy="257.62" r="1.9" fill="#fff" stroke="#666" stroke-width="0.8"/>
<circle cx="172.07" cy="257.87" r="1.9" fill="#fff" stroke="#666" stroke-width="0.8"/>
<circle cx="178.95" cy="258.04" r="1.9" fill="#fff" stroke="#666" stroke-width="0.8"/>
<circle cx="185.83" cy="258.21" r="1.9" fill="#fff" stroke="#666" stroke-width="0.8"/>
<circle cx="192.70" cy="258.54" r="1.9" fill="#fff" stroke="#666" stroke-width="0.8"/>
<circle cx="199.58" cy="258.37" r="1.9" fill="#fff" stroke="#666" stroke-width="0.8"/>
<circle cx="206.46" cy="258.71" r="1.9" fill="#fff" stroke="#666" stroke-width="0.8"/>
<circle cx="213.34" cy="258.71" r="1.9" fill="#fff" stroke="#666" stroke-width="0.8"/>
<circle cx="220.21" cy="259.04" r="1.9" fill="#fff" stroke="#666" stroke-width="0.8"/>
<circle cx="227.09" cy="258.71" r="1.9" fill="#fff" stroke="#666" stroke-width="0.8"/>
<circle cx="233.97" cy="258.88" r="1.9" fill="#fff" stroke="#666" stroke-width="0.8"/>
<circle cx="240.85" cy="259.04" r="1.9" fill="#fff" stroke="#666" stroke-width="0.8"/>
<circle cx="247.72" cy="258.71" r="1.9" fill="#fff" stroke="#666" stroke-width="0.8"/>
<circle cx="48.28" cy="244.83" r="1.9" fill="#fff" stroke="#ff7070" stroke-width="0.8"/>
<circle cx="55.15" cy="250.60" r="1.9" fill="#fff" stroke="#ff7070" stroke-width="0.8"/>
<circle cx="62.03" cy="250.60" r="1.9" fill="#fff" stroke="#ff7070" stroke-width="0.8"/>
<circle cx="68.91" cy="248.17" r="1.9" fill="#fff" stroke="#ff7070" stroke-width="0.8"/>
<circle cx="75.79" cy="247.50" r="1.9" fill="#fff" stroke="#ff7070" stroke-width="0.8"/>
<circle cx="82.66" cy="248.26" r="1.9" fill="#fff" stroke="#ff7070" stroke-width="0.8"/>
<circle cx="89.54" cy="248.09" r="1.9" fill="#fff" stroke="#ff7070" stroke-width="0.8"/>
<circle cx="96.42" cy="248.00" r="1.9" fill="#fff" stroke="#ff7070" stroke-width="0.8"/>
<circle cx="103.30" cy="247.75" r="1.9" fill="#fff" stroke="#ff7070" stroke-width="0.8"/>
<circle cx="110.17" cy="247.59" r="1.9" fill="#fff" stroke="#ff7070" stroke-width="0.8"/>
<circle cx="117.05" cy="247.59" r="1.9" fill="#fff" stroke="#ff7070" stroke-width="0.8"/>
<circle cx="123.93" cy="247.42" r="1.9" fill="#fff" stroke="#ff7070" stroke-width="0.8"/>
<circle cx="130.81" cy="247.42" r="1.9" fill="#fff" stroke="#ff7070" stroke-width="0.8"/>
<circle cx="137.68" cy="247.08" r="1.9" fill="#fff" stroke="#ff7070" stroke-width="0.8"/>
<circle cx="144.56" cy="247.08" r="1.9" fill="#fff" stroke="#ff7070" stroke-width="0.8"/>
<circle cx="151.44" cy="247.00" r="1.9" fill="#fff" stroke="#ff7070" stroke-width="0.8"/>
<circle cx="158.32" cy="247.08" r="1.9" fill="#fff" stroke="#ff7070" stroke-width="0.8"/>
<circle cx="165.19" cy="247.08" r="1.9" fill="#fff" stroke="#ff7070" stroke-width="0.8"/>
<circle cx="172.07" cy="247.25" r="1.9" fill="#fff" stroke="#ff7070" stroke-width="0.8"/>
<circle cx="178.95" cy="247.25" r="1.9" fill="#fff" stroke="#ff7070" stroke-width="0.8"/>
<circle cx="185.83" cy="247.08" r="1.9" fill="#fff" stroke="#ff7070" stroke-width="0.8"/>
<circle cx="192.70" cy="247.42" r="1.9" fill="#fff" stroke="#ff7070" stroke-width="0.8"/>
<circle cx="199.58" cy="247.42" r="1.9" fill="#fff" stroke="#ff7070" stroke-width="0.8"/>
<circle cx="206.46" cy="247.25" r="1.9" fill="#fff" stroke="#ff7070" stroke-width="0.8"/>
<circle cx="213.34" cy="247.25" r="1.9" fill="#fff" stroke="#ff7070" stroke-width="0.8"/>
<circle cx="220.21" cy="247.25" r="1.9" fill="#fff" stroke="#ff7070" stroke-width="0.8"/>
<circle cx="227.09" cy="247.25" r="1.9" fill="#fff" stroke="#ff7070" stroke-width="0.8"/>
<circle cx="233.97" cy="247.25" r="1.9" fill="#fff" stroke="#ff7070" stroke-width="0.8"/>
<circle cx="240.85" cy="247.25" r="1.9" fill="#fff" stroke="#ff7070" stroke-width="0.8"/>
<circle cx="247.72" cy="247.08" r="1.9" fill="#fff" stroke="#ff7070" stroke-width="0.8"/>
<circle cx="48.28" cy="249.01" r="2.2" fill="url(#gk)"/>
<circle cx="55.15" cy="250.18" r="2.2" fill="url(#gk)"/>
<circle cx="62.03" cy="250.18" r="2.2" fill="url(#gk)"/>
<circle cx="68.91" cy="251.43" r="2.2" fill="url(#gk)"/>
<circle cx="75.79" cy="255.61" r="2.2" fill="url(#gk)"/>
<circle cx="82.66" cy="257.29" r="2.2" fill="url(#gk)"/>
<circle cx="89.54" cy="258.46" r="2.2" fill="url(#gk)"/>
<circle cx="96.42" cy="259.38" r="2.2" fill="url(#gk)"/>
<circle cx="103.30" cy="259.80" r="2.2" fill="url(#gk)"/>
<circle cx="110.17" cy="259.96" r="2.2" fill="url(#gk)"/>
<circle cx="117.05" cy="259.96" r="2.2" fill="url(#gk)"/>
<circle cx="123.93" cy="259.96" r="2.2" fill="url(#gk)"/>
<circle cx="130.81" cy="259.96" r="2.2" fill="url(#gk)"/>
<circle cx="137.68" cy="259.96" r="2.2" fill="url(#gk)"/>
<circle cx="144.56" cy="259.80" r="2.2" fill="url(#gk)"/>
<circle cx="151.44" cy="259.54" r="2.2" fill="url(#gk)"/>
<circle cx="158.32" cy="259.54" r="2.2" fill="url(#gk)"/>
<circle cx="165.19" cy="259.21" r="2.2" fill="url(#gk)"/>
<circle cx="172.07" cy="259.80" r="2.2" fill="url(#gk)"/>
<circle cx="178.95" cy="260.05" r="2.2" fill="url(#gk)"/>
<circle cx="185.83" cy="260.55" r="2.2" fill="url(#gk)"/>
<circle cx="192.70" cy="261.89" r="2.2" fill="url(#gk)"/>
<circle cx="199.58" cy="261.89" r="2.2" fill="url(#gk)"/>
<circle cx="206.46" cy="261.89" r="2.2" fill="url(#gk)"/>
<circle cx="213.34" cy="262.14" r="2.2" fill="url(#gk)"/>
<circle cx="220.21" cy="261.89" r="2.2" fill="url(#gk)"/>
<circle cx="227.09" cy="261.64" r="2.2" fill="url(#gk)"/>
<circle cx="233.97" cy="261.89" r="2.2" fill="url(#gk)"/>
<circle cx="240.85" cy="262.14" r="2.2" fill="url(#gk)"/>
<circle cx="247.72" cy="262.14" r="2.2" fill="url(#gk)"/>
<circle cx="48.28" cy="254.53" r="2.2" fill="url(#gr)"/>
<circle cx="55.15" cy="251.77" r="2.2" fill="url(#gr)"/>
<circle cx="62.03" cy="251.77" r="2.2" fill="url(#gr)"/>
<circle cx="68.91" cy="250.60" r="2.2" fill="url(#gr)"/>
<circle cx="75.79" cy="249.34" r="2.2" fill="url(#gr)"/>
<circle cx="82.66" cy="248.84" r="2.2" fill="url(#gr)"/>
<circle cx="89.54" cy="248.67" r="2.2" fill="url(#gr)"/>
<circle cx="96.42" cy="248.42" r="2.2" fill="url(#gr)"/>
<circle cx="103.30" cy="247.92" r="2.2" fill="url(#gr)"/>
<circle cx="110.17" cy="247.75" r="2.2" fill="url(#gr)"/>
<circle cx="117.05" cy="247.75" r="2.2" fill="url(#gr)"/>
<circle cx="123.93" cy="247.59" r="2.2" fill="url(#gr)"/>
<circle cx="130.81" cy="247.59" r="2.2" fill="url(#gr)"/>
<circle cx="137.68" cy="247.08" r="2.2" fill="url(#gr)"/>
<circle cx="144.56" cy="247.08" r="2.2" fill="url(#gr)"/>
<circle cx="151.44" cy="247.00" r="2.2" fill="url(#gr)"/>
<circle cx="158.32" cy="247.08" r="2.2" fill="url(#gr)"/>
<circle cx="165.19" cy="247.08" r="2.2" fill="url(#gr)"/>
<circle cx="172.07" cy="247.25" r="2.2" fill="url(#gr)"/>
<circle cx="178.95" cy="247.25" r="2.2" fill="url(#gr)"/>
<circle cx="185.83" cy="247.08" r="2.2" fill="url(#gr)"/>
<circle cx="192.70" cy="247.42" r="2.2" fill="url(#gr)"/>
<circle cx="199.58" cy="247.42" r="2.2" fill="url(#gr)"/>
<circle cx="206.46" cy="247.25" r="2.2" fill="url(#gr)"/>
<circle cx="213.34" cy="247.25" r="2.2" fill="url(#gr)"/>
<circle cx="220.21" cy="247.25" r="2.2" fill="url(#gr)"/>
<circle cx="227.09" cy="247.25" r="2.2" fill="url(#gr)"/>
<circle cx="233.97" cy="247.25" r="2.2" fill="url(#gr)"/>
<circle cx="240.85" cy="247.25" r="2.2" fill="url(#gr)"/>
<circle cx="247.72" cy="247.08" r="2.2" fill="url(#gr)"/>
<rect x="41.4" y="227.6" width="213.2" height="133.79999999999998" fill="none" stroke="#2a2a2a" stroke-width="1.45"/>
<line x1="41.40" y1="361.4" x2="41.40" y2="358.4" stroke="#2a2a2a" stroke-width="1.2"/>
<line x1="75.79" y1="361.4" x2="75.79" y2="358.4" stroke="#2a2a2a" stroke-width="1.2"/>
<line x1="110.17" y1="361.4" x2="110.17" y2="358.4" stroke="#2a2a2a" stroke-width="1.2"/>
<line x1="144.56" y1="361.4" x2="144.56" y2="358.4" stroke="#2a2a2a" stroke-width="1.2"/>
<line x1="178.95" y1="361.4" x2="178.95" y2="358.4" stroke="#2a2a2a" stroke-width="1.2"/>
<line x1="213.34" y1="361.4" x2="213.34" y2="358.4" stroke="#2a2a2a" stroke-width="1.2"/>
<line x1="247.72" y1="361.4" x2="247.72" y2="358.4" stroke="#2a2a2a" stroke-width="1.2"/>
<line x1="48.28" y1="361.4" x2="48.28" y2="359.59999999999997" stroke="#2a2a2a" stroke-width="1.1"/>
<line x1="55.15" y1="361.4" x2="55.15" y2="359.59999999999997" stroke="#2a2a2a" stroke-width="1.1"/>
<line x1="62.03" y1="361.4" x2="62.03" y2="359.59999999999997" stroke="#2a2a2a" stroke-width="1.1"/>
<line x1="68.91" y1="361.4" x2="68.91" y2="359.59999999999997" stroke="#2a2a2a" stroke-width="1.1"/>
<line x1="82.66" y1="361.4" x2="82.66" y2="359.59999999999997" stroke="#2a2a2a" stroke-width="1.1"/>
<line x1="89.54" y1="361.4" x2="89.54" y2="359.59999999999997" stroke="#2a2a2a" stroke-width="1.1"/>
<line x1="96.42" y1="361.4" x2="96.42" y2="359.59999999999997" stroke="#2a2a2a" stroke-width="1.1"/>
<line x1="103.30" y1="361.4" x2="103.30" y2="359.59999999999997" stroke="#2a2a2a" stroke-width="1.1"/>
<line x1="117.05" y1="361.4" x2="117.05" y2="359.59999999999997" stroke="#2a2a2a" stroke-width="1.1"/>
<line x1="123.93" y1="361.4" x2="123.93" y2="359.59999999999997" stroke="#2a2a2a" stroke-width="1.1"/>
<line x1="130.81" y1="361.4" x2="130.81" y2="359.59999999999997" stroke="#2a2a2a" stroke-width="1.1"/>
<line x1="137.68" y1="361.4" x2="137.68" y2="359.59999999999997" stroke="#2a2a2a" stroke-width="1.1"/>
<line x1="151.44" y1="361.4" x2="151.44" y2="359.59999999999997" stroke="#2a2a2a" stroke-width="1.1"/>
<line x1="158.32" y1="361.4" x2="158.32" y2="359.59999999999997" stroke="#2a2a2a" stroke-width="1.1"/>
<line x1="165.19" y1="361.4" x2="165.19" y2="359.59999999999997" stroke="#2a2a2a" stroke-width="1.1"/>
<line x1="172.07" y1="361.4" x2="172.07" y2="359.59999999999997" stroke="#2a2a2a" stroke-width="1.1"/>
<line x1="185.83" y1="361.4" x2="185.83" y2="359.59999999999997" stroke="#2a2a2a" stroke-width="1.1"/>
<line x1="192.70" y1="361.4" x2="192.70" y2="359.59999999999997" stroke="#2a2a2a" stroke-width="1.1"/>
<line x1="199.58" y1="361.4" x2="199.58" y2="359.59999999999997" stroke="#2a2a2a" stroke-width="1.1"/>
<line x1="206.46" y1="361.4" x2="206.46" y2="359.59999999999997" stroke="#2a2a2a" stroke-width="1.1"/>
<line x1="220.21" y1="361.4" x2="220.21" y2="359.59999999999997" stroke="#2a2a2a" stroke-width="1.1"/>
<line x1="227.09" y1="361.4" x2="227.09" y2="359.59999999999997" stroke="#2a2a2a" stroke-width="1.1"/>
<line x1="233.97" y1="361.4" x2="233.97" y2="359.59999999999997" stroke="#2a2a2a" stroke-width="1.1"/>
<line x1="240.85" y1="361.4" x2="240.85" y2="359.59999999999997" stroke="#2a2a2a" stroke-width="1.1"/>
<line x1="41.4" y1="361.40" x2="44.4" y2="361.40" stroke="#2a2a2a" stroke-width="1.2"/>
<line x1="41.4" y1="344.67" x2="44.4" y2="344.67" stroke="#2a2a2a" stroke-width="1.2"/>
<line x1="41.4" y1="327.95" x2="44.4" y2="327.95" stroke="#2a2a2a" stroke-width="1.2"/>
<line x1="41.4" y1="311.22" x2="44.4" y2="311.22" stroke="#2a2a2a" stroke-width="1.2"/>
<line x1="41.4" y1="294.50" x2="44.4" y2="294.50" stroke="#2a2a2a" stroke-width="1.2"/>
<line x1="41.4" y1="277.77" x2="44.4" y2="277.77" stroke="#2a2a2a" stroke-width="1.2"/>
<line x1="41.4" y1="261.05" x2="44.4" y2="261.05" stroke="#2a2a2a" stroke-width="1.2"/>
<line x1="41.4" y1="244.32" x2="44.4" y2="244.32" stroke="#2a2a2a" stroke-width="1.2"/>
<line x1="41.4" y1="227.60" x2="44.4" y2="227.60" stroke="#2a2a2a" stroke-width="1.2"/>
<line x1="41.4" y1="353.04" x2="43.199999999999996" y2="353.04" stroke="#2a2a2a" stroke-width="1.1"/>
<line x1="41.4" y1="336.31" x2="43.199999999999996" y2="336.31" stroke="#2a2a2a" stroke-width="1.1"/>
<line x1="41.4" y1="319.59" x2="43.199999999999996" y2="319.59" stroke="#2a2a2a" stroke-width="1.1"/>
<line x1="41.4" y1="302.86" x2="43.199999999999996" y2="302.86" stroke="#2a2a2a" stroke-width="1.1"/>
<line x1="41.4" y1="286.14" x2="43.199999999999996" y2="286.14" stroke="#2a2a2a" stroke-width="1.1"/>
<line x1="41.4" y1="269.41" x2="43.199999999999996" y2="269.41" stroke="#2a2a2a" stroke-width="1.1"/>
<line x1="41.4" y1="252.69" x2="43.199999999999996" y2="252.69" stroke="#2a2a2a" stroke-width="1.1"/>
<line x1="41.4" y1="235.96" x2="43.199999999999996" y2="235.96" stroke="#2a2a2a" stroke-width="1.1"/>
<text x="41.40" y="371.60" font-size="10.0" text-anchor="middle" fill="#1a1a1a" textLength="5.12" lengthAdjust="spacingAndGlyphs" >0</text>
<text x="75.79" y="371.60" font-size="10.0" text-anchor="middle" fill="#1a1a1a" textLength="5.12" lengthAdjust="spacingAndGlyphs" >5</text>
<text x="110.17" y="371.60" font-size="10.0" text-anchor="middle" fill="#1a1a1a" textLength="10.23" lengthAdjust="spacingAndGlyphs" >10</text>
<text x="144.56" y="371.60" font-size="10.0" text-anchor="middle" fill="#1a1a1a" textLength="10.23" lengthAdjust="spacingAndGlyphs" >15</text>
<text x="178.95" y="371.60" font-size="10.0" text-anchor="middle" fill="#1a1a1a" textLength="10.23" lengthAdjust="spacingAndGlyphs" >20</text>
<text x="213.34" y="371.60" font-size="10.0" text-anchor="middle" fill="#1a1a1a" textLength="10.23" lengthAdjust="spacingAndGlyphs" >25</text>
<text x="247.72" y="371.60" font-size="10.0" text-anchor="middle" fill="#1a1a1a" textLength="10.23" lengthAdjust="spacingAndGlyphs" >30</text>
<text x="38.20" y="364.70" font-size="10.0" text-anchor="end" fill="#1a1a1a" textLength="4.86" lengthAdjust="spacingAndGlyphs" >0</text>
<text x="38.20" y="347.97" font-size="10.0" text-anchor="end" fill="#1a1a1a" textLength="9.72" lengthAdjust="spacingAndGlyphs" >20</text>
<text x="38.20" y="331.25" font-size="10.0" text-anchor="end" fill="#1a1a1a" textLength="9.72" lengthAdjust="spacingAndGlyphs" >40</text>
<text x="38.20" y="314.52" font-size="10.0" text-anchor="end" fill="#1a1a1a" textLength="9.72" lengthAdjust="spacingAndGlyphs" >60</text>
<text x="38.20" y="297.80" font-size="10.0" text-anchor="end" fill="#1a1a1a" textLength="9.72" lengthAdjust="spacingAndGlyphs" >80</text>
<text x="38.20" y="281.07" font-size="10.0" text-anchor="end" fill="#1a1a1a" textLength="14.58" lengthAdjust="spacingAndGlyphs" >100</text>
<text x="38.20" y="264.35" font-size="10.0" text-anchor="end" fill="#1a1a1a" textLength="14.58" lengthAdjust="spacingAndGlyphs" >120</text>
<text x="38.20" y="247.62" font-size="10.0" text-anchor="end" fill="#1a1a1a" textLength="14.58" lengthAdjust="spacingAndGlyphs" >140</text>
<text x="38.20" y="230.90" font-size="10.0" text-anchor="end" fill="#1a1a1a" textLength="14.58" lengthAdjust="spacingAndGlyphs" >160</text>
<path d="M334.98,232.28 L344.65,251.77 L354.33,251.77 L364.01,264.57 L373.69,264.82 L383.36,264.82 L393.04,273.47 L402.72,273.47 L412.40,273.47 L422.07,281.26 L431.75,281.26 L441.43,281.26 L451.10,288.55 L460.78,288.55 L470.46,288.55 L480.14,301.86 L489.81,301.86 L499.49,302.11 L509.17,320.93 L518.85,320.50 L528.52,320.25" fill="none" stroke="#555555" stroke-width="0.7" stroke-linejoin="round" stroke-linecap="butt" />
<path d="M334.98,252.36 L344.65,255.92 L354.33,257.70 L364.01,265.84 L373.69,265.92 L383.36,266.01 L393.04,274.48 L402.72,274.48 L412.40,274.48 L422.07,282.28 L431.75,282.28 L441.43,282.28 L451.10,289.57 L460.78,289.57 L470.46,289.57 L480.14,302.70 L489.81,302.70 L499.49,302.96 L509.17,321.77 L518.85,321.35 L528.52,321.09" fill="none" stroke="#2a2a2a" stroke-width="0.8" stroke-linejoin="round" stroke-linecap="butt" />
<path d="M334.98,239.65 L344.65,253.97 L354.33,255.24 L364.01,256.26 L373.69,256.26 L383.36,256.26 L393.04,262.28 L402.72,262.28 L412.40,262.28 L422.07,267.79 L431.75,267.79 L441.43,267.79 L451.10,273.47 L460.78,273.47 L470.46,273.47 L480.14,283.13 L489.81,283.13 L499.49,283.13 L509.17,293.72 L518.85,293.72 L528.52,293.72" fill="none" stroke="#ff7070" stroke-width="0.7" stroke-linejoin="round" stroke-linecap="butt" />
<path d="M334.98,251.26 L344.65,253.55 L354.33,254.99 L364.01,256.26 L373.69,256.26 L383.36,256.43 L393.04,262.28 L402.72,262.28 L412.40,262.28 L422.07,267.79 L431.75,267.79 L441.43,267.79 L451.10,273.47 L460.78,273.47 L470.46,273.47 L480.14,283.13 L489.81,283.13 L499.49,283.13 L509.17,293.72 L518.85,293.72 L528.52,293.72" fill="none" stroke="#ff4a4a" stroke-width="0.75" stroke-linejoin="round" stroke-linecap="butt" />
<circle cx="334.98" cy="232.28" r="1.9" fill="#fff" stroke="#666" stroke-width="0.8"/>
<circle cx="344.65" cy="251.77" r="1.9" fill="#fff" stroke="#666" stroke-width="0.8"/>
<circle cx="354.33" cy="251.77" r="1.9" fill="#fff" stroke="#666" stroke-width="0.8"/>
<circle cx="364.01" cy="264.57" r="1.9" fill="#fff" stroke="#666" stroke-width="0.8"/>
<circle cx="373.69" cy="264.82" r="1.9" fill="#fff" stroke="#666" stroke-width="0.8"/>
<circle cx="383.36" cy="264.82" r="1.9" fill="#fff" stroke="#666" stroke-width="0.8"/>
<circle cx="393.04" cy="273.47" r="1.9" fill="#fff" stroke="#666" stroke-width="0.8"/>
<circle cx="402.72" cy="273.47" r="1.9" fill="#fff" stroke="#666" stroke-width="0.8"/>
<circle cx="412.40" cy="273.47" r="1.9" fill="#fff" stroke="#666" stroke-width="0.8"/>
<circle cx="422.07" cy="281.26" r="1.9" fill="#fff" stroke="#666" stroke-width="0.8"/>
<circle cx="431.75" cy="281.26" r="1.9" fill="#fff" stroke="#666" stroke-width="0.8"/>
<circle cx="441.43" cy="281.26" r="1.9" fill="#fff" stroke="#666" stroke-width="0.8"/>
<circle cx="451.10" cy="288.55" r="1.9" fill="#fff" stroke="#666" stroke-width="0.8"/>
<circle cx="460.78" cy="288.55" r="1.9" fill="#fff" stroke="#666" stroke-width="0.8"/>
<circle cx="470.46" cy="288.55" r="1.9" fill="#fff" stroke="#666" stroke-width="0.8"/>
<circle cx="480.14" cy="301.86" r="1.9" fill="#fff" stroke="#666" stroke-width="0.8"/>
<circle cx="489.81" cy="301.86" r="1.9" fill="#fff" stroke="#666" stroke-width="0.8"/>
<circle cx="499.49" cy="302.11" r="1.9" fill="#fff" stroke="#666" stroke-width="0.8"/>
<circle cx="509.17" cy="320.93" r="1.9" fill="#fff" stroke="#666" stroke-width="0.8"/>
<circle cx="518.85" cy="320.50" r="1.9" fill="#fff" stroke="#666" stroke-width="0.8"/>
<circle cx="528.52" cy="320.25" r="1.9" fill="#fff" stroke="#666" stroke-width="0.8"/>
<circle cx="334.98" cy="239.65" r="1.9" fill="#fff" stroke="#ff7070" stroke-width="0.8"/>
<circle cx="344.65" cy="253.97" r="1.9" fill="#fff" stroke="#ff7070" stroke-width="0.8"/>
<circle cx="354.33" cy="255.24" r="1.9" fill="#fff" stroke="#ff7070" stroke-width="0.8"/>
<circle cx="364.01" cy="256.26" r="1.9" fill="#fff" stroke="#ff7070" stroke-width="0.8"/>
<circle cx="373.69" cy="256.26" r="1.9" fill="#fff" stroke="#ff7070" stroke-width="0.8"/>
<circle cx="383.36" cy="256.26" r="1.9" fill="#fff" stroke="#ff7070" stroke-width="0.8"/>
<circle cx="393.04" cy="262.28" r="1.9" fill="#fff" stroke="#ff7070" stroke-width="0.8"/>
<circle cx="402.72" cy="262.28" r="1.9" fill="#fff" stroke="#ff7070" stroke-width="0.8"/>
<circle cx="412.40" cy="262.28" r="1.9" fill="#fff" stroke="#ff7070" stroke-width="0.8"/>
<circle cx="422.07" cy="267.79" r="1.9" fill="#fff" stroke="#ff7070" stroke-width="0.8"/>
<circle cx="431.75" cy="267.79" r="1.9" fill="#fff" stroke="#ff7070" stroke-width="0.8"/>
<circle cx="441.43" cy="267.79" r="1.9" fill="#fff" stroke="#ff7070" stroke-width="0.8"/>
<circle cx="451.10" cy="273.47" r="1.9" fill="#fff" stroke="#ff7070" stroke-width="0.8"/>
<circle cx="460.78" cy="273.47" r="1.9" fill="#fff" stroke="#ff7070" stroke-width="0.8"/>
<circle cx="470.46" cy="273.47" r="1.9" fill="#fff" stroke="#ff7070" stroke-width="0.8"/>
<circle cx="480.14" cy="283.13" r="1.9" fill="#fff" stroke="#ff7070" stroke-width="0.8"/>
<circle cx="489.81" cy="283.13" r="1.9" fill="#fff" stroke="#ff7070" stroke-width="0.8"/>
<circle cx="499.49" cy="283.13" r="1.9" fill="#fff" stroke="#ff7070" stroke-width="0.8"/>
<circle cx="509.17" cy="293.72" r="1.9" fill="#fff" stroke="#ff7070" stroke-width="0.8"/>
<circle cx="518.85" cy="293.72" r="1.9" fill="#fff" stroke="#ff7070" stroke-width="0.8"/>
<circle cx="528.52" cy="293.72" r="1.9" fill="#fff" stroke="#ff7070" stroke-width="0.8"/>
<circle cx="334.98" cy="252.36" r="2.2" fill="url(#gk)"/>
<circle cx="344.65" cy="255.92" r="2.2" fill="url(#gk)"/>
<circle cx="354.33" cy="257.70" r="2.2" fill="url(#gk)"/>
<circle cx="364.01" cy="265.84" r="2.2" fill="url(#gk)"/>
<circle cx="373.69" cy="265.92" r="2.2" fill="url(#gk)"/>
<circle cx="383.36" cy="266.01" r="2.2" fill="url(#gk)"/>
<circle cx="393.04" cy="274.48" r="2.2" fill="url(#gk)"/>
<circle cx="402.72" cy="274.48" r="2.2" fill="url(#gk)"/>
<circle cx="412.40" cy="274.48" r="2.2" fill="url(#gk)"/>
<circle cx="422.07" cy="282.28" r="2.2" fill="url(#gk)"/>
<circle cx="431.75" cy="282.28" r="2.2" fill="url(#gk)"/>
<circle cx="441.43" cy="282.28" r="2.2" fill="url(#gk)"/>
<circle cx="451.10" cy="289.57" r="2.2" fill="url(#gk)"/>
<circle cx="460.78" cy="289.57" r="2.2" fill="url(#gk)"/>
<circle cx="470.46" cy="289.57" r="2.2" fill="url(#gk)"/>
<circle cx="480.14" cy="302.70" r="2.2" fill="url(#gk)"/>
<circle cx="489.81" cy="302.70" r="2.2" fill="url(#gk)"/>
<circle cx="499.49" cy="302.96" r="2.2" fill="url(#gk)"/>
<circle cx="509.17" cy="321.77" r="2.2" fill="url(#gk)"/>
<circle cx="518.85" cy="321.35" r="2.2" fill="url(#gk)"/>
<circle cx="528.52" cy="321.09" r="2.2" fill="url(#gk)"/>
<circle cx="334.98" cy="251.26" r="2.2" fill="url(#gr)"/>
<circle cx="344.65" cy="253.55" r="2.2" fill="url(#gr)"/>
<circle cx="354.33" cy="254.99" r="2.2" fill="url(#gr)"/>
<circle cx="364.01" cy="256.26" r="2.2" fill="url(#gr)"/>
<circle cx="373.69" cy="256.26" r="2.2" fill="url(#gr)"/>
<circle cx="383.36" cy="256.43" r="2.2" fill="url(#gr)"/>
<circle cx="393.04" cy="262.28" r="2.2" fill="url(#gr)"/>
<circle cx="402.72" cy="262.28" r="2.2" fill="url(#gr)"/>
<circle cx="412.40" cy="262.28" r="2.2" fill="url(#gr)"/>
<circle cx="422.07" cy="267.79" r="2.2" fill="url(#gr)"/>
<circle cx="431.75" cy="267.79" r="2.2" fill="url(#gr)"/>
<circle cx="441.43" cy="267.79" r="2.2" fill="url(#gr)"/>
<circle cx="451.10" cy="273.47" r="2.2" fill="url(#gr)"/>
<circle cx="460.78" cy="273.47" r="2.2" fill="url(#gr)"/>
<circle cx="470.46" cy="273.47" r="2.2" fill="url(#gr)"/>
<circle cx="480.14" cy="283.13" r="2.2" fill="url(#gr)"/>
<circle cx="489.81" cy="283.13" r="2.2" fill="url(#gr)"/>
<circle cx="499.49" cy="283.13" r="2.2" fill="url(#gr)"/>
<circle cx="509.17" cy="293.72" r="2.2" fill="url(#gr)"/>
<circle cx="518.85" cy="293.72" r="2.2" fill="url(#gr)"/>
<circle cx="528.52" cy="293.72" r="2.2" fill="url(#gr)"/>
<rect x="325.3" y="227.7" width="212.90000000000003" height="135.60000000000002" fill="none" stroke="#2a2a2a" stroke-width="1.45"/>
<line x1="325.30" y1="363.3" x2="325.30" y2="360.3" stroke="#2a2a2a" stroke-width="1.2"/>
<line x1="354.33" y1="363.3" x2="354.33" y2="360.3" stroke="#2a2a2a" stroke-width="1.2"/>
<line x1="383.36" y1="363.3" x2="383.36" y2="360.3" stroke="#2a2a2a" stroke-width="1.2"/>
<line x1="412.40" y1="363.3" x2="412.40" y2="360.3" stroke="#2a2a2a" stroke-width="1.2"/>
<line x1="441.43" y1="363.3" x2="441.43" y2="360.3" stroke="#2a2a2a" stroke-width="1.2"/>
<line x1="470.46" y1="363.3" x2="470.46" y2="360.3" stroke="#2a2a2a" stroke-width="1.2"/>
<line x1="499.49" y1="363.3" x2="499.49" y2="360.3" stroke="#2a2a2a" stroke-width="1.2"/>
<line x1="528.52" y1="363.3" x2="528.52" y2="360.3" stroke="#2a2a2a" stroke-width="1.2"/>
<line x1="339.82" y1="363.3" x2="339.82" y2="361.5" stroke="#2a2a2a" stroke-width="1.1"/>
<line x1="368.85" y1="363.3" x2="368.85" y2="361.5" stroke="#2a2a2a" stroke-width="1.1"/>
<line x1="397.88" y1="363.3" x2="397.88" y2="361.5" stroke="#2a2a2a" stroke-width="1.1"/>
<line x1="426.91" y1="363.3" x2="426.91" y2="361.5" stroke="#2a2a2a" stroke-width="1.1"/>
<line x1="455.94" y1="363.3" x2="455.94" y2="361.5" stroke="#2a2a2a" stroke-width="1.1"/>
<line x1="484.98" y1="363.3" x2="484.98" y2="361.5" stroke="#2a2a2a" stroke-width="1.1"/>
<line x1="514.01" y1="363.3" x2="514.01" y2="361.5" stroke="#2a2a2a" stroke-width="1.1"/>
<line x1="325.3" y1="363.30" x2="328.3" y2="363.30" stroke="#2a2a2a" stroke-width="1.2"/>
<line x1="325.3" y1="346.35" x2="328.3" y2="346.35" stroke="#2a2a2a" stroke-width="1.2"/>
<line x1="325.3" y1="329.40" x2="328.3" y2="329.40" stroke="#2a2a2a" stroke-width="1.2"/>
<line x1="325.3" y1="312.45" x2="328.3" y2="312.45" stroke="#2a2a2a" stroke-width="1.2"/>
<line x1="325.3" y1="295.50" x2="328.3" y2="295.50" stroke="#2a2a2a" stroke-width="1.2"/>
<line x1="325.3" y1="278.55" x2="328.3" y2="278.55" stroke="#2a2a2a" stroke-width="1.2"/>
<line x1="325.3" y1="261.60" x2="328.3" y2="261.60" stroke="#2a2a2a" stroke-width="1.2"/>
<line x1="325.3" y1="244.65" x2="328.3" y2="244.65" stroke="#2a2a2a" stroke-width="1.2"/>
<line x1="325.3" y1="227.70" x2="328.3" y2="227.70" stroke="#2a2a2a" stroke-width="1.2"/>
<line x1="325.3" y1="354.82" x2="327.1" y2="354.82" stroke="#2a2a2a" stroke-width="1.1"/>
<line x1="325.3" y1="337.88" x2="327.1" y2="337.88" stroke="#2a2a2a" stroke-width="1.1"/>
<line x1="325.3" y1="320.93" x2="327.1" y2="320.93" stroke="#2a2a2a" stroke-width="1.1"/>
<line x1="325.3" y1="303.98" x2="327.1" y2="303.98" stroke="#2a2a2a" stroke-width="1.1"/>
<line x1="325.3" y1="287.02" x2="327.1" y2="287.02" stroke="#2a2a2a" stroke-width="1.1"/>
<line x1="325.3" y1="270.07" x2="327.1" y2="270.07" stroke="#2a2a2a" stroke-width="1.1"/>
<line x1="325.3" y1="253.12" x2="327.1" y2="253.12" stroke="#2a2a2a" stroke-width="1.1"/>
<line x1="325.3" y1="236.17" x2="327.1" y2="236.17" stroke="#2a2a2a" stroke-width="1.1"/>
<text x="325.30" y="373.50" font-size="10.0" text-anchor="middle" fill="#1a1a1a" textLength="5.12" lengthAdjust="spacingAndGlyphs" >0</text>
<text x="354.33" y="373.50" font-size="10.0" text-anchor="middle" fill="#1a1a1a" textLength="5.12" lengthAdjust="spacingAndGlyphs" >3</text>
<text x="383.36" y="373.50" font-size="10.0" text-anchor="middle" fill="#1a1a1a" textLength="5.12" lengthAdjust="spacingAndGlyphs" >6</text>
<text x="412.40" y="373.50" font-size="10.0" text-anchor="middle" fill="#1a1a1a" textLength="5.12" lengthAdjust="spacingAndGlyphs" >9</text>
<text x="441.43" y="373.50" font-size="10.0" text-anchor="middle" fill="#1a1a1a" textLength="10.23" lengthAdjust="spacingAndGlyphs" >12</text>
<text x="470.46" y="373.50" font-size="10.0" text-anchor="middle" fill="#1a1a1a" textLength="10.23" lengthAdjust="spacingAndGlyphs" >15</text>
<text x="499.49" y="373.50" font-size="10.0" text-anchor="middle" fill="#1a1a1a" textLength="10.23" lengthAdjust="spacingAndGlyphs" >18</text>
<text x="528.52" y="373.50" font-size="10.0" text-anchor="middle" fill="#1a1a1a" textLength="10.23" lengthAdjust="spacingAndGlyphs" >21</text>
<text x="322.10" y="366.60" font-size="10.0" text-anchor="end" fill="#1a1a1a" textLength="4.86" lengthAdjust="spacingAndGlyphs" >0</text>
<text x="322.10" y="349.65" font-size="10.0" text-anchor="end" fill="#1a1a1a" textLength="9.72" lengthAdjust="spacingAndGlyphs" >20</text>
<text x="322.10" y="332.70" font-size="10.0" text-anchor="end" fill="#1a1a1a" textLength="9.72" lengthAdjust="spacingAndGlyphs" >40</text>
<text x="322.10" y="315.75" font-size="10.0" text-anchor="end" fill="#1a1a1a" textLength="9.72" lengthAdjust="spacingAndGlyphs" >60</text>
<text x="322.10" y="298.80" font-size="10.0" text-anchor="end" fill="#1a1a1a" textLength="9.72" lengthAdjust="spacingAndGlyphs" >80</text>
<text x="322.10" y="281.85" font-size="10.0" text-anchor="end" fill="#1a1a1a" textLength="14.58" lengthAdjust="spacingAndGlyphs" >100</text>
<text x="322.10" y="264.90" font-size="10.0" text-anchor="end" fill="#1a1a1a" textLength="14.58" lengthAdjust="spacingAndGlyphs" >120</text>
<text x="322.10" y="247.95" font-size="10.0" text-anchor="end" fill="#1a1a1a" textLength="14.58" lengthAdjust="spacingAndGlyphs" >140</text>
<text x="322.10" y="231.00" font-size="10.0" text-anchor="end" fill="#1a1a1a" textLength="14.58" lengthAdjust="spacingAndGlyphs" >160</text>
<text x="234" y="239.5" font-size="10" text-anchor="middle" fill="#1a1a1a" textLength="21.6" lengthAdjust="spacingAndGlyphs" >C/10</text>
<text x="46.2" y="321.6" font-size="12.4" text-anchor="start" fill="#1a1a1a" textLength="106" lengthAdjust="spacingAndGlyphs" >charge/discharge</text>
<line x1="45.70" y1="334.00" x2="55.30" y2="334.00" stroke="#a8a8a8" stroke-width="1.4"/>
<line x1="67.00" y1="334.00" x2="76.90" y2="334.00" stroke="#a8a8a8" stroke-width="1.4"/>
<line x1="88.40" y1="334.00" x2="97.90" y2="334.00" stroke="#a8a8a8" stroke-width="1.4"/>
<line x1="108.70" y1="334.00" x2="118.90" y2="334.00" stroke="#a8a8a8" stroke-width="1.4"/>
<circle cx="61.40" cy="334.00" r="1.8" fill="#fff" stroke="#777" stroke-width="0.8"/>
<circle cx="103.30" cy="334.00" r="2.0" fill="url(#gk)"/>
<text x="82.6" y="339.4" font-size="14.8" text-anchor="middle" fill="#1a1a1a" textLength="3.4" lengthAdjust="spacingAndGlyphs" >/</text>
<text x="122.9" y="338.7" font-size="12.6" text-anchor="start" fill="#1a1a1a" textLength="36.5" lengthAdjust="spacingAndGlyphs" >LFMP</text>
<line x1="45.70" y1="350.50" x2="55.30" y2="350.50" stroke="#ff6a6a" stroke-width="1.0"/>
<line x1="67.00" y1="350.50" x2="76.90" y2="350.50" stroke="#ff6a6a" stroke-width="1.0"/>
<line x1="88.40" y1="350.50" x2="97.90" y2="350.50" stroke="#ff6a6a" stroke-width="1.0"/>
<line x1="108.70" y1="350.50" x2="118.90" y2="350.50" stroke="#ff6a6a" stroke-width="1.0"/>
<circle cx="61.40" cy="351.00" r="1.8" fill="#fff" stroke="#ff7070" stroke-width="0.8"/>
<circle cx="103.30" cy="351.00" r="2.0" fill="url(#gr)"/>
<text x="82.6" y="356.4" font-size="14.8" text-anchor="middle" fill="#1a1a1a" textLength="3.4" lengthAdjust="spacingAndGlyphs" >/</text>
<text x="122.9" y="355.7" font-size="12.6" text-anchor="start" fill="#1a1a1a" textLength="50.5" lengthAdjust="spacingAndGlyphs" >LFMP/C</text>
<text x="330.3" y="324.6" font-size="12.4" text-anchor="start" fill="#1a1a1a" textLength="106" lengthAdjust="spacingAndGlyphs" >charge/discharge</text>
<line x1="329.80" y1="337.00" x2="339.40" y2="337.00" stroke="#a8a8a8" stroke-width="1.4"/>
<line x1="351.10" y1="337.00" x2="361.00" y2="337.00" stroke="#a8a8a8" stroke-width="1.4"/>
<line x1="372.50" y1="337.00" x2="382.00" y2="337.00" stroke="#a8a8a8" stroke-width="1.4"/>
<line x1="392.80" y1="337.00" x2="403.00" y2="337.00" stroke="#a8a8a8" stroke-width="1.4"/>
<circle cx="345.50" cy="337.00" r="1.8" fill="#fff" stroke="#777" stroke-width="0.8"/>
<circle cx="387.40" cy="337.00" r="2.0" fill="url(#gk)"/>
<text x="366.70000000000005" y="342.4" font-size="14.8" text-anchor="middle" fill="#1a1a1a" textLength="3.4" lengthAdjust="spacingAndGlyphs" >/</text>
<text x="407.0" y="341.7" font-size="12.6" text-anchor="start" fill="#1a1a1a" textLength="36.5" lengthAdjust="spacingAndGlyphs" >LFMP</text>
<line x1="329.80" y1="353.50" x2="339.40" y2="353.50" stroke="#ff6a6a" stroke-width="1.0"/>
<line x1="351.10" y1="353.50" x2="361.00" y2="353.50" stroke="#ff6a6a" stroke-width="1.0"/>
<line x1="372.50" y1="353.50" x2="382.00" y2="353.50" stroke="#ff6a6a" stroke-width="1.0"/>
<line x1="392.80" y1="353.50" x2="403.00" y2="353.50" stroke="#ff6a6a" stroke-width="1.0"/>
<circle cx="345.50" cy="354.00" r="1.8" fill="#fff" stroke="#ff7070" stroke-width="0.8"/>
<circle cx="387.40" cy="354.00" r="2.0" fill="url(#gr)"/>
<text x="366.70000000000005" y="359.4" font-size="14.8" text-anchor="middle" fill="#1a1a1a" textLength="3.4" lengthAdjust="spacingAndGlyphs" >/</text>
<text x="407.0" y="358.7" font-size="12.6" text-anchor="start" fill="#1a1a1a" textLength="50.5" lengthAdjust="spacingAndGlyphs" >LFMP/C</text>
<text x="351.2" y="244.60" font-size="10" text-anchor="middle" fill="#1a1a1a" textLength="21.6" lengthAdjust="spacingAndGlyphs" >C/10</text>
<text x="374.7" y="250.60" font-size="10" text-anchor="middle" fill="#1a1a1a" textLength="16.4" lengthAdjust="spacingAndGlyphs" >C/5</text>
<text x="405.4" y="257.50" font-size="10" text-anchor="middle" fill="#1a1a1a" textLength="16.4" lengthAdjust="spacingAndGlyphs" >C/2</text>
<text x="433" y="263.40" font-size="10" text-anchor="middle" fill="#1a1a1a" textLength="7.2" lengthAdjust="spacingAndGlyphs" >C</text>
<text x="461.9" y="270.90" font-size="10" text-anchor="middle" fill="#1a1a1a" textLength="13.4" lengthAdjust="spacingAndGlyphs" >2C</text>
<text x="491.3" y="280.80" font-size="10" text-anchor="middle" fill="#1a1a1a" textLength="13.4" lengthAdjust="spacingAndGlyphs" >5C</text>
<text x="522.6" y="289.10" font-size="10" text-anchor="middle" fill="#1a1a1a" textLength="18.6" lengthAdjust="spacingAndGlyphs" >10C</text>
<text x="110.6" y="386.8" font-size="12.4" text-anchor="start" fill="#1a1a1a" textLength="75.5" lengthAdjust="spacingAndGlyphs" >Cycle number</text>
<text x="394.5" y="388.8" font-size="12.4" text-anchor="start" fill="#1a1a1a" textLength="74.5" lengthAdjust="spacingAndGlyphs" >Cycle number</text>
<text transform="translate(19.3,366.8) rotate(-90)" font-size="12.4" textLength="133" lengthAdjust="spacingAndGlyphs" fill="#1a1a1a">Specific capacity, mAh g</text>
<text transform="translate(11.1,234.4) rotate(-90)" font-size="7.5" fill="#1a1a1a">-1</text>
<text transform="translate(302.5,368.4) rotate(-90)" font-size="12.4" textLength="134.2" lengthAdjust="spacingAndGlyphs" fill="#1a1a1a">Specific capacity, mAh g</text>
<text transform="translate(295.5,234.1) rotate(-90)" font-size="7.5" fill="#1a1a1a">-1</text>
</svg></body></html>
